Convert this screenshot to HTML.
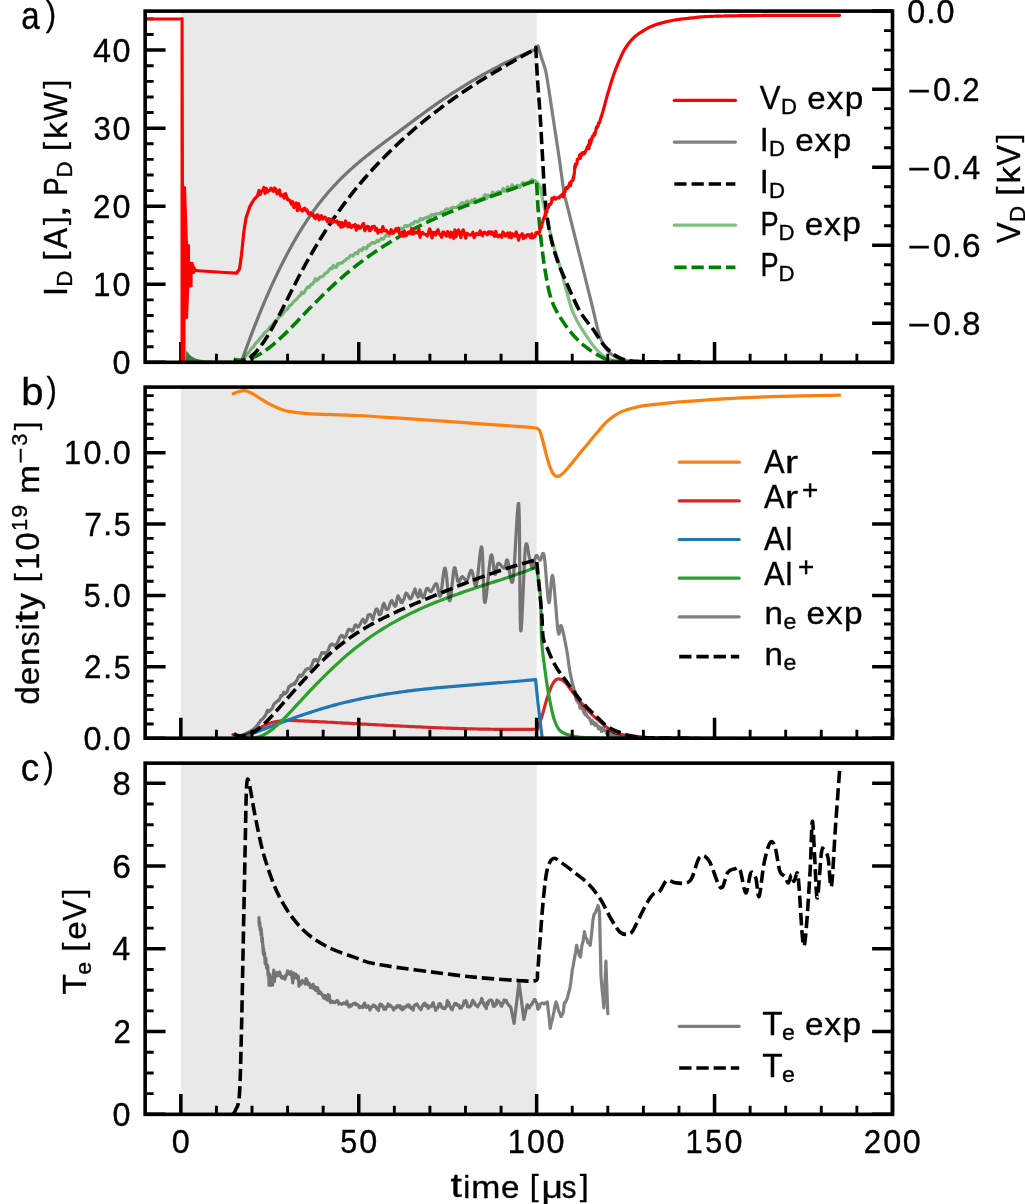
<!DOCTYPE html>
<html><head><meta charset="utf-8"><style>html,body{margin:0;padding:0;background:#fff;}svg{display:block;}text{font-family:"Liberation Sans",sans-serif;white-space:pre;-webkit-font-smoothing:antialiased;stroke:#000;stroke-width:0.35px;}svg{will-change:transform;}</style></head><body>
<svg width="1025" height="1204" viewBox="0 0 1025 1204" font-family="Liberation Sans, sans-serif">
<rect width="1025" height="1204" fill="#fff"/>
<defs>
<clipPath id="clipa"><rect x="145.15" y="11.1" width="747.35" height="351.2"/></clipPath>
<clipPath id="clipb"><rect x="145.15" y="387.1" width="747.35" height="351.1"/></clipPath>
<clipPath id="clipc"><rect x="145.15" y="763.15" width="747.35" height="351.2"/></clipPath>
</defs>
<rect x="180.85" y="11.1" width="355.8" height="351.2" fill="#e9e9e9"/>
<rect x="180.85" y="387.1" width="355.8" height="351.1" fill="#e9e9e9"/>
<rect x="180.85" y="763.15" width="355.8" height="351.2" fill="#e9e9e9"/>
<g clip-path="url(#clipa)">
<path d="M185.5 360.5L186 355.25L186.5 350L187 350.91L187.5 351.75L188 352.51L188.5 353.2L189 353.84L189.5 354.41L190 354.94L190.5 355.43L191 355.87L191.5 356.27L192 356.64L192.5 356.97L193 357.28L193.5 357.56L194 357.81L194.5 358.05L195 358.26L195.5 358.46L196 358.63L196.5 358.8L197 358.94L197.5 359.08L198 359.2L198.5 359.32L199 359.42L199.5 359.51L200 359.6L200.5 359.68L201 359.75L201.5 359.81L202 359.87L202.5 359.93L203 359.98L203.5 360.02L204 360.06L204.5 360.1L205 360.14L205.5 360.17L206 360.2L206.5 360.22L207 360.25L207.5 360.27L208 360.29L208.5 360.31L209 360.32L209.5 360.34L210 360.35L210.5 360.37L211 360.38L211.5 360.39L212 360.4L212.5 360.41L213 360.42L213.5 360.42L214 360.43L214.5 360.44L215 360.44L215.5 360.45L216 360.45L216.5 360.46L217 360.46L217.5 360.46L218 360.47L218.5 360.47L219 360.47L219.5 360.47L220 360.48L220.5 360.48L221 360.48L221.5 360.48L222 360.48L222.5 360.48L223 360.49L223.5 360.49L224 360.49L224.5 360.49L225 360.49L225.5 360.49L226 360.49L226.5 360.49L227 360.49L227.5 360.49L228 360.49L228.5 360.49L229 360.5L229.5 360.5L230 360.5L230.5 360.5L231 360.5L231.5 360.5L232 360.8L232 361.7L185.5 361.7Z" fill="#3d7a3d"/>
<path d="M244.7 357.81L246.2 355.45L247.71 353.57L249.21 351.95L250.71 349.47L252.22 347.76L253.72 346.58L255.22 343.84L256.72 342.25L258.23 341.12L259.73 338.55L261.23 337.04L262.74 335.64L264.24 333.27L265.74 332.02L267.25 330.83L268.75 328.86L270.25 326.62L271.76 325.65L273.26 323.62L274.76 321.67L276.27 320.87L277.77 318.66L279.27 316.8L280.77 315.69L282.28 314.45L283.78 312.42L285.28 310.45L286.79 309.56L288.29 307.92L289.79 305.48L291.3 304.72L292.8 302.64L294.3 300.97L295.81 299.91L297.31 298.39L298.81 296.4L300.32 295.43L301.82 292.22L303.32 293.37L304.82 291.6L306.33 288.63L307.83 286.77L309.33 287.27L310.84 284.4L312.34 284.35L313.84 282.04L315.35 278.58L316.85 280.63L318.35 279.18L319.86 277.04L321.36 276.98L322.86 276.2L324.37 274.51L325.87 272.72L327.37 272.5L328.88 270.13L330.38 268.41L331.88 268.81L333.38 265.34L334.89 267.28L336.39 267.44L337.89 263.59L339.4 263.86L340.9 262.96L342.4 262.95L343.91 261.11L345.41 260.14L346.91 258.56L348.42 258.33L349.92 256L351.42 255.28L352.92 256.01L354.43 253.78L355.93 252.66L357.43 253.88L358.94 250.23L360.44 249.76L361.94 250.74L363.45 247.54L364.95 247.84L366.45 248.74L367.96 245.3L369.46 245.54L370.96 243.48L372.47 242.5L373.97 243.36L375.47 242.66L376.97 240.54L378.48 241.56L379.98 239.79L381.48 238.29L382.99 239.12L384.49 237.45L385.99 235.19L387.5 234.41L389 236.08L390.5 232.85L392.01 232.16L393.51 233.39L395.01 231.09L396.52 231.61L398.02 230.92L399.52 228.48L401.02 228.38L402.53 229.33L404.03 227.12L405.53 225.43L407.04 226.59L408.54 225.34L410.04 225.74L411.55 223.66L413.05 224.06L414.55 221.69L416.06 221.37L417.56 222.22L419.06 220.73L420.57 218.53L422.07 219.79L423.57 218.63L425.07 217.78L426.58 218.12L428.08 216.68L429.58 219.25L431.09 214.84L432.59 214.68L434.09 215.63L435.6 213.74L437.1 213.94L438.6 213.5L440.11 213.55L441.61 211.91L443.11 213.31L444.62 210.91L446.12 208.86L447.62 209.14L449.12 209.07L450.63 209.5L452.13 207.25L453.63 207.3L455.14 207.53L456.64 207.36L458.14 205.82L459.65 206.1L461.15 203.01L462.65 202.7L464.16 204.72L465.66 202.97L467.16 200.83L468.67 202.19L470.17 202.87L471.67 200.26L473.17 202.53L474.68 198.86L476.18 199.92L477.68 200.54L479.19 200.22L480.69 198.74L482.19 198.95L483.7 196.67L485.2 194.72L486.7 198.45L488.21 195.22L489.71 196.5L491.21 195.43L492.72 192.23L494.22 193.71L495.72 194.11L497.22 192.15L498.73 191.63L500.23 192.39L501.73 191.64L503.24 188.44L504.74 191.04L506.24 190.42L507.75 186.87L509.25 190.39L510.75 188.75L512.26 184.92L513.76 187.95L515.26 187L516.77 185.66L518.27 185.29L519.77 187.39L521.27 184.78L522.78 182.57L524.28 183.26L525.78 182.95L527.29 182.57L528.79 182.11L530.29 182.1L531.8 179.58L533.3 180.43L535 180.8C535.83 181.77 538.62 182.87 540 186.6C541.38 190.33 541.92 196.83 543.3 203.2C544.68 209.57 546.63 217.87 548.3 224.8C549.97 231.73 551.37 237.87 553.3 244.8C555.23 251.73 557.68 258.65 559.9 266.4C562.12 274.15 564.38 283.55 566.6 291.3C568.82 299.05 570.43 306.25 573.2 312.9C575.97 319.55 579.32 325.1 583.2 331.2C587.08 337.3 592.07 344.78 596.5 349.5C600.93 354.22 605.05 357.42 609.8 359.5C614.55 361.58 609.97 361.58 625 362C640.03 362.42 687.5 362 700 362" fill="none" stroke="#008000" stroke-opacity="0.5" stroke-width="3.2" stroke-linejoin="round" stroke-linecap="round"/>
<path d="M233.7 359.25L236.71 359.87L239.72 360.13L242.73 360.05L245.74 359.66L248.75 358.97L251.76 357.99L254.77 356.76L257.78 355.27L260.79 353.57L263.8 351.65L266.81 349.54L269.82 347.26L272.83 344.83L275.84 342.26L278.85 339.56L281.86 336.76L284.87 333.86L287.88 330.89L290.89 327.85L293.9 324.76L296.91 321.64L299.92 318.49L302.93 315.35L305.94 312.21L308.95 309.1L311.96 306.01L314.97 302.95L317.98 299.92L320.99 296.93L324 293.98L327.01 291.08L330.02 288.22L333.03 285.41L336.04 282.66L339.05 279.96L342.06 277.32L345.07 274.74L348.08 272.22L351.09 269.74L354.1 267.33L357.11 264.96L360.12 262.64L363.13 260.38L366.14 258.16L369.15 256L372.16 253.87L375.17 251.8L378.18 249.77L381.19 247.78L384.21 245.84L387.22 243.94L390.23 242.08L393.24 240.26L396.25 238.48L399.26 236.74L402.27 235.03L405.28 233.36L408.29 231.72L411.3 230.12L414.31 228.55L417.32 227.02L420.33 225.51L423.34 224.03L426.35 222.58L429.36 221.16L432.37 219.77L435.38 218.4L438.39 217.06L441.4 215.74L444.41 214.44L447.42 213.16L450.43 211.91L453.44 210.67L456.45 209.45L459.46 208.25L462.47 207.07L465.48 205.9L468.49 204.74L471.5 203.6L474.51 202.47L477.52 201.35L480.53 200.25L483.54 199.15L486.55 198.06L489.56 196.97L492.57 195.9L495.58 194.83L498.59 193.76L501.6 192.69L504.61 191.63L507.62 190.57L510.63 189.51L513.64 188.45L516.65 187.38L519.66 186.31L522.67 185.24L525.68 184.17L528.69 183.08L531.7 181.99L535.5 181.5C535.68 181.8 536.13 178.3 536.6 183.3C537.07 188.3 537.47 201.25 538.3 211.5C539.13 221.75 540.48 235.1 541.6 244.8C542.72 254.5 543.62 261.4 545 269.7C546.38 278 547.97 287.67 549.9 294.6C551.83 301.53 553.27 305.2 556.6 311.3C559.93 317.4 565.2 325.38 569.9 331.2C574.6 337.02 579.27 341.77 584.8 346.2C590.33 350.63 597.23 355.22 603.1 357.8C608.97 360.38 603.85 361 620 361.7C636.15 362.4 686.67 361.95 700 362" fill="none" stroke="#008000" stroke-width="3.6" stroke-dasharray="12.3 4.9" stroke-linejoin="round" stroke-linecap="butt"/>
<path d="M242.4 358.99L244.4 353.38L246.4 347.87L248.4 342.43L250.41 337.09L252.41 331.83L254.41 326.66L256.41 321.57L258.41 316.57L260.41 311.66L262.41 306.83L264.41 302.08L266.42 297.42L268.42 292.84L270.42 288.35L272.42 283.94L274.42 279.61L276.42 275.37L278.42 271.2L280.43 267.12L282.43 263.12L284.43 259.2L286.43 255.36L288.43 251.6L290.43 247.92L292.43 244.32L294.44 240.79L296.44 237.35L298.44 233.98L300.44 230.68L302.44 227.46L304.44 224.32L306.44 221.25L308.44 218.25L310.45 215.32L312.45 212.47L314.45 209.69L316.45 206.98L318.45 204.34L320.45 201.76L322.45 199.25L324.46 196.8L326.46 194.41L328.46 192.08L330.46 189.8L332.46 187.58L334.46 185.41L336.46 183.29L338.47 181.21L340.47 179.18L342.47 177.2L344.47 175.25L346.47 173.35L348.47 171.48L350.47 169.64L352.47 167.84L354.48 166.07L356.48 164.34L358.48 162.63L360.48 160.94L362.48 159.29L364.48 157.65L366.48 156.04L368.49 154.45L370.49 152.88L372.49 151.32L374.49 149.78L376.49 148.25L378.49 146.74L380.49 145.23L382.5 143.73L384.5 142.24L386.5 140.76L388.5 139.28L390.5 137.8L392.5 136.32L394.5 134.83L396.5 133.35L398.51 131.86L400.51 130.36L402.51 128.87L404.51 127.37L406.51 125.87L408.51 124.37L410.51 122.87L412.52 121.38L414.52 119.88L416.52 118.39L418.52 116.91L420.52 115.43L422.52 113.96L424.52 112.5L426.53 111.04L428.53 109.6L430.53 108.17L432.53 106.74L434.53 105.33L436.53 103.93L438.53 102.55L440.53 101.17L442.54 99.8L444.54 98.45L446.54 97.11L448.54 95.78L450.54 94.46L452.54 93.15L454.54 91.86L456.55 90.57L458.55 89.3L460.55 88.04L462.55 86.79L464.55 85.55L466.55 84.33L468.55 83.11L470.56 81.91L472.56 80.72L474.56 79.54L476.56 78.38L478.56 77.22L480.56 76.08L482.56 74.95L484.56 73.83L486.57 72.72L488.57 71.62L490.57 70.54L492.57 69.47L494.57 68.41L496.57 67.36L498.57 66.32L500.58 65.3L502.58 64.29L504.58 63.29L506.58 62.3L508.58 61.33L510.58 60.36L512.58 59.41L514.59 58.47L516.59 57.55L518.59 56.63L520.59 55.73L522.59 54.84L524.59 53.96L526.59 53.1L528.59 52.25L530.6 51.41L532.6 50.58L534.6 49.76L536.6 48.96L538 45.8C538.6 47.87 540.3 53.92 541.6 58.2C542.9 62.48 544.42 65.13 545.8 71.5C547.18 77.87 548.38 86.7 549.9 96.4C551.42 106.1 553.23 118.62 554.9 129.7C556.57 140.78 558.38 152.38 559.9 162.9C561.42 173.42 562.88 186.08 564 192.8C565.12 199.52 564.78 195.92 566.6 203.2C568.42 210.48 572.13 225.42 574.9 236.5C577.67 247.58 580.43 258.62 583.2 269.7C585.97 280.78 588.73 291.92 591.5 303C594.27 314.08 597.03 328.17 599.8 336.2C602.57 344.23 604.5 347.32 608.1 351.2C611.7 355.08 616.08 357.78 621.4 359.5C626.72 361.22 626.9 361.08 640 361.5C653.1 361.92 690 361.92 700 362" fill="none" stroke="#000000" stroke-opacity="0.5" stroke-width="3.2" stroke-linejoin="round" stroke-linecap="round"/>
<path d="M233.5 360.51L236.52 361.55L239.54 361.83L242.56 361.39L245.58 360.29L248.6 358.56L251.63 356.23L254.65 353.37L257.67 350L260.69 346.17L263.71 341.92L266.73 337.29L269.75 332.32L272.77 327.07L275.79 321.58L278.81 315.89L281.84 310.06L284.86 304.12L287.88 298.13L290.9 292.13L293.92 286.16L296.94 280.28L299.96 274.52L302.98 268.9L306 263.4L309.02 258.02L312.05 252.77L315.07 247.64L318.09 242.62L321.11 237.72L324.13 232.94L327.15 228.26L330.17 223.69L333.19 219.22L336.21 214.86L339.24 210.59L342.26 206.42L345.28 202.35L348.3 198.36L351.32 194.47L354.34 190.66L357.36 186.94L360.38 183.29L363.4 179.73L366.42 176.24L369.45 172.83L372.47 169.48L375.49 166.21L378.51 163L381.53 159.85L384.55 156.77L387.57 153.74L390.59 150.77L393.61 147.85L396.63 144.98L399.66 142.16L402.68 139.39L405.7 136.66L408.72 133.97L411.74 131.33L414.76 128.73L417.78 126.17L420.8 123.65L423.82 121.17L426.84 118.72L429.87 116.32L432.89 113.95L435.91 111.62L438.93 109.32L441.95 107.06L444.97 104.83L447.99 102.63L451.01 100.46L454.03 98.33L457.05 96.22L460.08 94.14L463.1 92.09L466.12 90.07L469.14 88.07L472.16 86.1L475.18 84.15L478.2 82.23L481.22 80.32L484.24 78.44L487.26 76.58L490.29 74.74L493.31 72.92L496.33 71.12L499.35 69.33L502.37 67.56L505.39 65.8L508.41 64.06L511.43 62.34L514.45 60.62L517.47 58.92L520.5 57.22L523.52 55.54L526.54 53.87L529.56 52.2L532.58 50.54L535.6 48.89L535.8 47.4C536.08 52.8 536.8 68.85 537.5 79.8C538.2 90.75 539.18 100.63 540 113.1C540.82 125.57 541.53 140.12 542.4 154.6C543.27 169.08 543.95 186.9 545.2 200C546.45 213.1 548 223.52 549.9 233.2C551.8 242.88 553.82 249.8 556.6 258.1C559.38 266.4 562.72 274.13 566.6 283C570.48 291.87 575.47 303.55 579.9 311.3C584.33 319.05 589.05 323.68 593.2 329.5C597.35 335.32 600.38 341.48 604.8 346.2C609.22 350.92 613.83 355.25 619.7 357.8C625.57 360.35 626.62 360.8 640 361.5C653.38 362.2 690 361.92 700 362" fill="none" stroke="#000" stroke-width="3.6" stroke-dasharray="12.3 4.9" stroke-linejoin="round" stroke-linecap="butt"/>
</g>
<g clip-path="url(#clipb)">
<path d="M233.2 393.7C234.17 393.33 237.05 392 239 391.5C240.95 391 242.95 390.5 244.9 390.7C246.85 390.9 248.52 391.65 250.7 392.7C252.88 393.75 255.07 395.22 258 397C260.93 398.78 264.97 401.57 268.3 403.4C271.63 405.23 274.75 406.7 278 408C281.25 409.3 282.92 410.27 287.8 411.2C292.68 412.13 295.92 412.88 307.3 413.6C318.68 414.32 340.65 414.73 356.1 415.5C371.55 416.27 381.3 416.97 400 418.2C418.7 419.43 448.3 421.5 468.3 422.9C488.3 424.3 508.62 425.75 520 426.6C531.38 427.45 533.83 427.77 536.6 428L536.6 428C537.08 428.42 538.53 428.62 539.5 430.5C540.47 432.38 541.27 435.23 542.4 439.3C543.53 443.37 545 450.18 546.3 454.9C547.6 459.62 548.9 464.27 550.2 467.6C551.5 470.93 552.8 473.45 554.1 474.9C555.4 476.35 556.53 476.55 558 476.3C559.47 476.05 560.78 475.35 562.9 473.4C565.02 471.45 568.1 467.68 570.7 464.6C573.3 461.52 575.57 458.47 578.5 454.9C581.43 451.33 585.05 447.1 588.3 443.2C591.55 439.3 594.75 435.25 598 431.5C601.25 427.75 604.13 423.88 607.8 420.7C611.47 417.52 615.47 414.6 620 412.4C624.53 410.2 629.92 408.77 635 407.5C640.08 406.23 637.83 406.1 650.5 404.8C663.17 403.5 690.83 401.07 711 399.7C731.17 398.33 750.08 397.37 771.5 396.6C792.92 395.83 828.17 395.35 839.5 395.1" fill="none" stroke="#ff7f0e" stroke-width="3.2" stroke-linejoin="round" stroke-linecap="round"/>
<path d="M232.9 734.59L235.91 735.47L238.92 735.74L241.94 735.49L244.95 734.81L247.96 733.78L250.97 732.49L253.98 731.02L257 729.45L260.01 727.84L263.02 726.28L266.03 724.84L269.04 723.59L272.05 722.59L275.07 721.81L278.08 721.25L281.09 720.86L284.1 720.62L287.11 720.51L290.13 720.5L293.14 720.56L296.15 720.67L299.16 720.8L302.17 720.94L305.19 721.08L308.2 721.22L311.21 721.37L314.22 721.51L317.23 721.66L320.24 721.81L323.26 721.96L326.27 722.12L329.28 722.27L332.29 722.43L335.3 722.58L338.32 722.74L341.33 722.9L344.34 723.06L347.35 723.22L350.36 723.38L353.38 723.55L356.39 723.71L359.4 723.87L362.41 724.03L365.42 724.2L368.43 724.36L371.45 724.52L374.46 724.68L377.47 724.84L380.48 725L383.49 725.16L386.51 725.32L389.52 725.48L392.53 725.64L395.54 725.79L398.55 725.94L401.57 726.1L404.58 726.25L407.59 726.39L410.6 726.54L413.61 726.68L416.62 726.83L419.64 726.96L422.65 727.1L425.66 727.24L428.67 727.37L431.68 727.5L434.7 727.62L437.71 727.74L440.72 727.86L443.73 727.98L446.74 728.09L449.76 728.2L452.77 728.31L455.78 728.41L458.79 728.5L461.8 728.6L464.81 728.69L467.83 728.77L470.84 728.85L473.85 728.92L476.86 728.99L479.87 729.06L482.89 729.12L485.9 729.17L488.91 729.22L491.92 729.27L494.93 729.31L497.95 729.34L500.96 729.37L503.97 729.39L506.98 729.4L509.99 729.41L513 729.41L516.02 729.41L519.03 729.4L522.04 729.38L525.05 729.36L528.06 729.32L531.08 729.29L534.09 729.24L537.1 729.19L537.1 729.5C537.9 727.33 540.2 721.85 541.9 716.5C543.6 711.15 545.48 702.87 547.3 697.4C549.12 691.93 550.98 686.78 552.8 683.7C554.62 680.62 556.15 679.13 558.2 678.9C560.25 678.67 562.37 679.68 565.1 682.3C567.83 684.92 570.73 689.82 574.6 694.6C578.47 699.38 583.73 706.22 588.3 711C592.87 715.78 597.45 719.65 602 723.3C606.55 726.95 609.92 730.73 615.6 732.9C621.28 735.07 628.7 735.45 636.1 736.3C643.5 737.15 639.35 737.63 660 738C680.65 738.37 743.33 738.42 760 738.5" fill="none" stroke="#d62728" stroke-width="3.2" stroke-linejoin="round" stroke-linecap="round"/>
<path d="M239.8 738.59L242.82 737.41L245.84 736.22L248.86 735.04L251.87 733.85L254.89 732.67L257.91 731.49L260.93 730.32L263.95 729.15L266.97 727.98L269.98 726.82L273 725.67L276.02 724.52L279.04 723.39L282.06 722.26L285.08 721.15L288.09 720.04L291.11 718.95L294.13 717.87L297.15 716.8L300.17 715.75L303.19 714.72L306.2 713.7L309.22 712.7L312.24 711.71L315.26 710.75L318.28 709.8L321.3 708.88L324.31 707.97L327.33 707.09L330.35 706.24L333.37 705.4L336.39 704.59L339.41 703.81L342.42 703.04L345.44 702.3L348.46 701.58L351.48 700.88L354.5 700.2L357.52 699.54L360.53 698.9L363.55 698.28L366.57 697.67L369.59 697.09L372.61 696.52L375.63 695.98L378.64 695.44L381.66 694.93L384.68 694.43L387.7 693.95L390.72 693.48L393.74 693.02L396.76 692.58L399.77 692.16L402.79 691.74L405.81 691.34L408.83 690.96L411.85 690.58L414.87 690.21L417.88 689.86L420.9 689.52L423.92 689.18L426.94 688.86L429.96 688.54L432.98 688.24L435.99 687.94L439.01 687.65L442.03 687.36L445.05 687.09L448.07 686.82L451.09 686.55L454.1 686.29L457.12 686.04L460.14 685.79L463.16 685.54L466.18 685.3L469.2 685.06L472.21 684.82L475.23 684.58L478.25 684.35L481.27 684.12L484.29 683.88L487.31 683.65L490.32 683.42L493.34 683.19L496.36 682.95L499.38 682.72L502.4 682.48L505.42 682.24L508.43 681.99L511.45 681.75L514.47 681.5L517.49 681.24L520.51 680.98L523.53 680.72L526.54 680.44L529.56 680.17L532.58 679.88L535.6 679.59L537.8 701.5L540.5 724.7L542.5 740" fill="none" stroke="#1f77b4" stroke-width="3.2" stroke-linejoin="round" stroke-linecap="round"/>
<path d="M250 738.01L253.01 738.04L256.01 737.64L259.02 736.84L262.02 735.67L265.03 734.16L268.03 732.34L271.04 730.24L274.04 727.88L277.05 725.31L280.05 722.54L283.06 719.62L286.06 716.56L289.07 713.4L292.07 710.16L295.08 706.89L298.08 703.6L301.09 700.33L304.09 697.09L307.1 693.87L310.11 690.69L313.11 687.54L316.12 684.43L319.12 681.35L322.13 678.32L325.13 675.33L328.14 672.38L331.14 669.49L334.15 666.64L337.15 663.85L340.16 661.11L343.16 658.43L346.17 655.81L349.17 653.26L352.18 650.77L355.18 648.34L358.19 645.97L361.19 643.67L364.2 641.43L367.21 639.25L370.21 637.12L373.22 635.05L376.22 633.04L379.23 631.08L382.23 629.17L385.24 627.31L388.24 625.5L391.25 623.73L394.25 622.02L397.26 620.35L400.26 618.72L403.27 617.13L406.27 615.59L409.28 614.08L412.28 612.61L415.29 611.18L418.29 609.79L421.3 608.42L424.31 607.09L427.31 605.79L430.32 604.52L433.32 603.28L436.33 602.06L439.33 600.87L442.34 599.7L445.34 598.56L448.35 597.43L451.35 596.33L454.36 595.24L457.36 594.17L460.37 593.12L463.37 592.08L466.38 591.05L469.38 590.03L472.39 589.02L475.39 588.03L478.4 587.03L481.41 586.05L484.41 585.06L487.42 584.08L490.42 583.1L493.43 582.12L496.43 581.14L499.44 580.16L502.44 579.17L505.45 578.17L508.45 577.17L511.46 576.16L514.46 575.14L517.47 574.11L520.47 573.06L523.48 572L526.48 570.93L529.49 569.84L532.49 568.73L535.5 567.6L536.6 567.8C537.25 572.68 539.67 585.07 540.5 597.1C541.33 609.13 540.92 628.3 541.6 640C542.28 651.7 543.42 658.2 544.6 667.3C545.78 676.4 547.12 685.95 548.7 694.6C550.28 703.25 552.05 713.05 554.1 719.2C556.15 725.35 557.58 728.65 561 731.5C564.42 734.35 568.1 735.22 574.6 736.3C581.1 737.38 579.1 737.63 600 738C620.9 738.37 683.33 738.42 700 738.5" fill="none" stroke="#2ca02c" stroke-width="3.2" stroke-linejoin="round" stroke-linecap="round"/>
<path d="M236 737.5L245 734L251.7 730.64L252.7 729.89L253.7 729.35L254.71 727.86L255.71 727.38L256.71 725.92L257.71 724.99L258.72 723.08L259.72 722.02L260.72 720.17L261.72 719.4L262.72 718.86L263.73 717.51L264.73 716.38L265.73 715L266.73 711.84L267.73 710.06L268.74 711.75L269.74 710.77L270.74 709.72L271.74 709.04L272.75 706.97L273.75 704.72L274.75 702.95L275.75 702.74L276.75 701.65L277.76 700.38L278.76 700.59L279.76 698.84L280.76 695.74L281.77 696.06L282.77 694.75L283.77 692.16L284.77 693.93L285.77 693.16L286.78 692.32L287.78 690.33L288.78 686.65L289.78 686.81L290.79 685L291.79 685.33L292.79 684.33L293.79 683.2L294.79 684.19L295.8 681.56L296.8 680.74L297.8 678.21L298.8 676.25L299.8 674.91L300.81 676.48L301.81 675.86L302.81 674.49L303.81 672.42L304.82 671.36L305.82 669.68L306.82 668.92L307.82 668.49L308.82 668.84L309.83 668.68L310.83 667.12L311.83 665.26L312.83 662.24L313.84 659.79L314.84 660.51L315.84 659.32L316.84 660.53L317.84 661.57L318.85 659.87L319.85 657.12L320.85 655.21L321.85 652.67L322.86 653.17L323.86 652.5L324.86 652.85L325.86 654.65L326.86 653.14L327.87 651.03L328.87 648.47L329.87 645.68L330.87 644.77L331.87 643.83L332.88 644.91L333.88 645.43L334.88 644.82L335.88 644.75L336.89 643.78L337.89 641.82L338.89 639.26L339.89 637.05L340.89 636L341.9 635.4L342.9 635.84L343.9 638L344.9 637.45L345.91 636.62L346.91 632.93L347.91 630.58L348.91 629.25L349.91 629.78L350.92 629.59L351.92 631.08L352.92 630.65L353.92 628.23L354.93 625.48L355.93 624.88L356.93 626.56L357.93 627.2L358.93 626.27L359.94 624.66L360.94 622.58L361.94 620.58L362.94 619.17L363.94 620.55L364.95 623.07L365.95 621.19L366.95 619.77L367.95 615.06L368.96 614.7L369.96 614.31L370.96 615.6L371.96 617.32L372.96 619.49L373.97 615.13L374.97 612.11L375.97 609.23L376.97 608.94L377.98 610.49L378.98 614.54L379.98 614.61L380.98 613.68L381.98 609.07L382.99 604.97L383.99 603.28L384.99 605.6L385.99 609.11L387 609.41L388 609.26L389 607.28L390 603.67L391 601.46L392.01 600.54L393.01 602.74L394.01 605.26L395.01 606.31L396.01 605.16L397.02 598.91L398.02 595.87L399.02 597.64L400.02 599.08L401.03 602.51L402.03 602.75L403.03 600.5L404.03 599.13L405.03 595.43L406.04 593.2L407.04 593.68L408.04 595.3L409.04 597.34L410.05 598.92L411.05 598.38L412.05 596.46L413.05 593.56L414.05 591.56L415.06 588.94L416.06 592.58L417.06 595.14L418.06 597.05L419.07 595.48L420 589.9L420.23 590.62L420.54 591.7L420.9 593.01L421.31 594.39L421.74 595.69L422.2 596.78L422.65 597.49L423.1 597.7L423.46 597.4L423.83 596.72L424.21 595.75L424.6 594.57L425 593.29L425.4 591.98L425.8 590.74L426.21 589.65L426.61 588.81L427 588.3L427.75 588.31L428.48 589.2L429.22 590.41L430.02 591.36L430.9 591.5L431.45 591L432.05 590.12L432.67 588.96L433.32 587.67L433.98 586.38L434.63 585.2L435.25 584.28L435.85 583.74L436.4 583.7L436.75 584.11L437.08 584.91L437.39 586.03L437.69 587.38L437.98 588.88L438.26 590.44L438.54 591.98L438.81 593.43L439.09 594.68L439.38 595.67L439.67 596.31L439.98 596.51L440.3 596.2L440.45 595.83L440.61 595.3L440.77 594.61L440.93 593.78L441.09 592.83L441.25 591.77L441.42 590.6L441.58 589.36L441.75 588.04L441.92 586.67L442.09 585.25L442.26 583.81L442.43 582.35L442.6 580.89L442.77 579.44L442.94 578.02L443.12 576.64L443.29 575.31L443.46 574.06L443.63 572.88L443.81 571.8L443.98 570.83L444.15 569.99L444.32 569.28L444.49 568.72L444.66 568.33L444.83 568.12L445 568.1L445.14 568.25L445.29 568.57L445.43 569.03L445.57 569.64L445.71 570.38L445.86 571.23L446 572.19L446.14 573.25L446.28 574.4L446.43 575.63L446.57 576.92L446.71 578.27L446.86 579.66L447 581.09L447.14 582.54L447.28 584L447.43 585.47L447.57 586.93L447.71 588.38L447.86 589.79L448 591.17L448.14 592.49L448.28 593.76L448.43 594.95L448.57 596.07L448.71 597.09L448.85 598.01L448.99 598.82L449.13 599.5L449.28 600.06L449.42 600.46L449.56 600.71L449.7 600.8L449.84 600.72L449.98 600.49L450.12 600.11L450.27 599.6L450.41 598.96L450.55 598.2L450.69 597.34L450.84 596.38L450.98 595.34L451.12 594.21L451.27 593.01L451.41 591.76L451.55 590.45L451.69 589.11L451.84 587.73L451.98 586.33L452.12 584.91L452.26 583.49L452.4 582.08L452.54 580.68L452.68 579.3L452.82 577.96L452.96 576.66L453.1 575.42L453.24 574.23L453.37 573.12L453.51 572.09L453.64 571.14L453.78 570.3L453.91 569.56L454.04 568.95L454.17 568.45L454.3 568.1L454.6 567.71L454.89 567.82L455.18 568.36L455.47 569.26L455.74 570.45L456.02 571.86L456.29 573.4L456.57 575.01L456.84 576.62L457.11 578.16L457.38 579.55L457.65 580.71L457.92 581.59L458.2 582.1L458.84 582.2L459.47 581.36L460.1 579.98L460.74 578.46L461.4 577.2L462.1 576.6L462.84 576.87L463.61 577.72L464.4 578.84L465.2 579.89L466.01 580.55L466.8 580.5L467.23 580.01L467.65 579.18L468.08 578.08L468.51 576.81L468.94 575.45L469.36 574.1L469.79 572.83L470.22 571.74L470.65 570.91L471.07 570.44L471.5 570.4L471.81 570.77L472.12 571.53L472.43 572.61L472.73 573.94L473.04 575.45L473.34 577.07L473.65 578.73L473.95 580.36L474.26 581.9L474.57 583.27L474.89 584.4L475.21 585.23L475.53 585.69L475.86 585.7L476.2 585.2L476.34 584.82L476.47 584.32L476.61 583.69L476.76 582.95L476.9 582.1L477.05 581.15L477.2 580.12L477.35 579L477.5 577.8L477.65 576.55L477.81 575.23L477.96 573.86L478.11 572.45L478.27 571.01L478.43 569.54L478.58 568.05L478.74 566.55L478.89 565.06L479.05 563.56L479.2 562.08L479.36 560.63L479.51 559.2L479.66 557.81L479.82 556.47L479.97 555.18L480.11 553.95L480.26 552.8L480.4 551.72L480.55 550.73L480.69 549.83L480.82 549.03L480.96 548.35L481.09 547.78L481.22 547.34L481.34 547.03L481.47 546.87L481.58 546.86L481.7 547L481.78 547.2L481.85 547.5L481.92 547.88L481.99 548.35L482.06 548.9L482.13 549.53L482.19 550.24L482.25 551.01L482.31 551.85L482.37 552.76L482.42 553.72L482.48 554.75L482.53 555.82L482.58 556.95L482.63 558.12L482.68 559.34L482.73 560.59L482.78 561.88L482.83 563.2L482.87 564.55L482.92 565.93L482.96 567.33L483.01 568.74L483.05 570.17L483.1 571.61L483.14 573.06L483.18 574.51L483.23 575.96L483.27 577.41L483.32 578.85L483.36 580.29L483.41 581.7L483.45 583.11L483.5 584.49L483.55 585.84L483.59 587.17L483.64 588.47L483.69 589.73L483.74 590.95L483.8 592.13L483.85 593.27L483.9 594.35L483.96 595.39L484.02 596.36L484.08 597.28L484.14 598.14L484.21 598.92L484.27 599.64L484.34 600.28L484.41 600.85L484.48 601.34L484.56 601.74L484.64 602.05L484.72 602.27L484.8 602.4L484.9 602.43L485.01 602.35L485.11 602.15L485.22 601.84L485.34 601.43L485.46 600.92L485.58 600.32L485.7 599.64L485.83 598.86L485.96 598.01L486.09 597.09L486.22 596.1L486.35 595.04L486.49 593.92L486.63 592.75L486.77 591.53L486.91 590.27L487.05 588.96L487.2 587.62L487.34 586.25L487.49 584.86L487.63 583.44L487.78 582.01L487.92 580.57L488.07 579.12L488.22 577.68L488.36 576.23L488.51 574.8L488.65 573.37L488.8 571.97L488.94 570.59L489.08 569.23L489.23 567.91L489.37 566.63L489.5 565.39L489.64 564.2L489.78 563.06L489.91 561.98L490.04 560.96L490.17 560L490.3 559.12L490.42 558.31L490.54 557.59L490.66 556.95L490.78 556.4L490.89 555.95L491 555.6L491.26 555.08L491.51 554.96L491.75 555.2L491.98 555.76L492.21 556.6L492.43 557.67L492.64 558.95L492.84 560.37L493.04 561.91L493.23 563.52L493.43 565.15L493.61 566.78L493.8 568.35L493.98 569.82L494.17 571.16L494.35 572.32L494.53 573.25L494.71 573.93L494.9 574.3L495.21 574.36L495.48 573.91L495.74 573.04L495.99 571.86L496.23 570.47L496.48 568.97L496.74 567.46L497.03 566.05L497.35 564.83L497.7 563.92L498.1 563.4L498.86 563.36L499.74 563.97L500.71 564.98L501.7 566.15L502.67 567.22L503.55 567.95L504.3 568.1L504.82 567.52L505.24 566.35L505.58 564.82L505.89 563.18L506.2 561.65L506.53 560.49L506.92 559.92L507.4 560.2L507.61 560.66L507.83 561.43L508.06 562.47L508.29 563.73L508.54 565.18L508.79 566.77L509.04 568.46L509.31 570.22L509.57 572.01L509.84 573.77L510.12 575.48L510.4 577.09L510.68 578.57L510.96 579.86L511.24 580.93L511.52 581.75L511.8 582.26L512.08 582.43L512.35 582.22L512.63 581.59L512.9 580.5L512.97 580.1L513.05 579.63L513.13 579.09L513.2 578.49L513.28 577.84L513.36 577.12L513.44 576.35L513.52 575.52L513.6 574.64L513.68 573.71L513.76 572.73L513.84 571.71L513.92 570.64L514 569.53L514.09 568.38L514.17 567.19L514.25 565.97L514.33 564.71L514.42 563.42L514.5 562.1L514.59 560.76L514.67 559.39L514.75 557.99L514.84 556.57L514.92 555.13L515.01 553.68L515.09 552.21L515.18 550.73L515.26 549.23L515.35 547.73L515.43 546.22L515.52 544.7L515.6 543.18L515.68 541.66L515.77 540.14L515.85 538.63L515.94 537.12L516.02 535.61L516.1 534.12L516.18 532.63L516.27 531.16L516.35 529.71L516.43 528.27L516.51 526.85L516.59 525.46L516.67 524.08L516.75 522.74L516.83 521.42L516.91 520.13L516.99 518.87L517.06 517.64L517.14 516.46L517.21 515.3L517.29 514.19L517.36 513.12L517.44 512.1L517.51 511.12L517.58 510.19L517.65 509.31L517.72 508.48L517.79 507.71L517.86 506.99L517.93 506.33L517.99 505.73L518.06 505.19L518.12 504.72L518.19 504.32L518.25 503.98L518.31 503.71L518.37 503.52L518.43 503.4L518.48 503.36L518.54 503.4L518.59 503.51L518.65 503.71L518.7 504L518.73 504.22L518.76 504.47L518.79 504.77L518.82 505.1L518.85 505.46L518.87 505.87L518.9 506.3L518.93 506.77L518.95 507.28L518.98 507.82L519 508.39L519.03 508.99L519.05 509.63L519.07 510.29L519.1 510.99L519.12 511.71L519.14 512.47L519.16 513.25L519.18 514.06L519.2 514.89L519.22 515.76L519.24 516.65L519.26 517.56L519.28 518.5L519.3 519.46L519.31 520.45L519.33 521.45L519.35 522.48L519.36 523.54L519.38 524.61L519.4 525.7L519.41 526.81L519.43 527.94L519.44 529.09L519.46 530.26L519.47 531.45L519.48 532.65L519.5 533.86L519.51 535.1L519.52 536.34L519.54 537.6L519.55 538.88L519.56 540.16L519.57 541.46L519.58 542.77L519.6 544.1L519.61 545.43L519.62 546.77L519.63 548.12L519.64 549.48L519.65 550.85L519.66 552.22L519.67 553.6L519.68 554.99L519.69 556.38L519.7 557.78L519.71 559.18L519.72 560.58L519.73 561.99L519.74 563.4L519.75 564.81L519.76 566.22L519.77 567.64L519.78 569.05L519.79 570.46L519.8 571.87L519.81 573.28L519.82 574.69L519.83 576.09L519.83 577.49L519.84 578.88L519.85 580.27L519.86 581.65L519.87 583.03L519.88 584.4L519.89 585.76L519.9 587.12L519.91 588.46L519.92 589.8L519.93 591.12L519.94 592.44L519.95 593.74L519.96 595.03L519.97 596.31L519.99 597.58L520 598.83L520.01 600.07L520.02 601.29L520.03 602.5L520.04 603.69L520.05 604.86L520.07 606.02L520.08 607.15L520.09 608.27L520.11 609.37L520.12 610.45L520.13 611.51L520.15 612.55L520.16 613.57L520.18 614.56L520.19 615.53L520.21 616.48L520.22 617.4L520.24 618.3L520.25 619.17L520.27 620.02L520.29 620.84L520.31 621.63L520.32 622.4L520.34 623.13L520.36 623.84L520.38 624.51L520.4 625.16L520.42 625.77L520.44 626.36L520.46 626.91L520.48 627.43L520.51 627.91L520.53 628.36L520.55 628.77L520.57 629.15L520.6 629.5L520.62 629.81L520.65 630.07L520.67 630.31L520.7 630.5L520.74 630.73L520.78 630.88L520.83 630.97L520.87 630.98L520.92 630.92L520.96 630.8L521.01 630.6L521.05 630.35L521.1 630.03L521.15 629.65L521.2 629.21L521.25 628.71L521.3 628.16L521.35 627.55L521.41 626.89L521.46 626.18L521.51 625.41L521.57 624.6L521.62 623.75L521.68 622.85L521.73 621.9L521.79 620.91L521.84 619.89L521.9 618.82L521.96 617.72L522.02 616.59L522.08 615.42L522.14 614.22L522.2 612.99L522.25 611.73L522.31 610.44L522.38 609.13L522.44 607.8L522.5 606.44L522.56 605.07L522.62 603.67L522.68 602.26L522.74 600.83L522.81 599.39L522.87 597.94L522.93 596.48L522.99 595L523.06 593.52L523.12 592.04L523.18 590.55L523.25 589.06L523.31 587.57L523.37 586.08L523.44 584.59L523.5 583.11L523.56 581.64L523.62 580.17L523.69 578.71L523.75 577.26L523.81 575.82L523.88 574.4L523.94 573L524 571.61L524.06 570.24L524.13 568.89L524.19 567.56L524.25 566.26L524.31 564.99L524.37 563.74L524.43 562.52L524.49 561.33L524.55 560.17L524.61 559.05L524.67 557.96L524.73 556.91L524.79 555.9L524.85 554.93L524.9 554L524.96 553.11L525.02 552.27L525.07 551.48L525.13 550.73L525.19 550.04L525.24 549.4L525.29 548.81L525.35 548.28L525.4 547.8L525.83 545L526.24 543.74L526.65 543.77L527.06 544.81L527.45 546.59L527.84 548.84L528.21 551.29L528.58 553.66L528.95 555.69L529.3 557.1L529.61 558.12L529.9 559.31L530.18 560.61L530.45 561.96L530.72 563.31L530.98 564.59L531.25 565.76L531.52 566.75L531.8 567.51L532.09 567.98L532.4 568.1L532.67 567.86L532.96 567.3L533.25 566.47L533.54 565.43L533.84 564.23L534.15 562.92L534.45 561.57L534.76 560.23L535.07 558.96L535.38 557.8L535.69 556.82L536 556.07L536.3 555.6L536.95 555.48L537.6 556.21L538.25 557.41L538.9 558.71L539.55 559.77L540.2 560.2L540.84 559.37L541.47 557.44L542.1 555.26L542.74 553.67L543.4 553.5L544.1 555.6L544.19 556.09L544.29 556.65L544.38 557.29L544.47 558L544.57 558.77L544.67 559.6L544.76 560.49L544.86 561.44L544.96 562.43L545.06 563.47L545.16 564.56L545.26 565.69L545.36 566.85L545.47 568.05L545.57 569.28L545.67 570.53L545.77 571.8L545.88 573.09L545.98 574.4L546.09 575.72L546.19 577.04L546.29 578.37L546.4 579.7L546.5 581.03L546.61 582.35L546.71 583.66L546.81 584.96L546.92 586.24L547.02 587.49L547.13 588.73L547.23 589.93L547.33 591.1L547.43 592.24L547.54 593.34L547.64 594.39L547.74 595.4L547.84 596.36L547.94 597.26L548.04 598.11L548.14 598.9L548.23 599.62L548.33 600.27L548.43 600.86L548.52 601.36L548.61 601.79L548.71 602.14L548.8 602.4L548.96 602.63L549.12 602.54L549.28 602.16L549.43 601.53L549.58 600.67L549.72 599.6L549.87 598.34L550.01 596.94L550.15 595.41L550.29 593.78L550.42 592.08L550.56 590.33L550.7 588.56L550.84 586.8L550.98 585.07L551.12 583.41L551.26 581.83L551.41 580.36L551.56 579.03L551.71 577.87L551.86 576.9L552.02 576.16L552.18 575.66L552.35 575.43L552.52 575.5L552.7 575.9L552.78 576.2L552.87 576.57L552.96 577.01L553.05 577.52L553.14 578.08L553.23 578.71L553.33 579.39L553.42 580.14L553.52 580.93L553.62 581.77L553.72 582.66L553.82 583.6L553.92 584.58L554.02 585.6L554.12 586.66L554.22 587.75L554.33 588.88L554.43 590.04L554.54 591.22L554.64 592.43L554.75 593.66L554.86 594.92L554.96 596.19L555.07 597.48L555.18 598.78L555.29 600.09L555.39 601.41L555.5 602.74L555.61 604.07L555.71 605.4L555.82 606.72L555.93 608.05L556.03 609.36L556.14 610.67L556.24 611.97L556.35 613.25L556.45 614.52L556.55 615.76L556.66 616.99L556.76 618.19L556.86 619.36L556.96 620.51L557.05 621.62L557.15 622.7L557.25 623.74L557.34 624.75L557.43 625.71L557.53 626.63L557.62 627.5L557.71 628.32L557.79 629.1L557.88 629.81L557.96 630.48L558.04 631.08L558.12 631.62L558.2 632.1L558.75 634.21L559.19 633.97L559.58 632.17L559.94 629.65L560.32 627.2L560.76 625.65L561.3 625.8L561.48 626.23L561.68 626.77L561.88 627.41L562.1 628.15L562.32 628.97L562.56 629.87L562.79 630.83L563.04 631.86L563.28 632.94L563.53 634.07L563.79 635.23L564.04 636.43L564.29 637.64L564.54 638.86L564.79 640.09L565.03 641.31L565.27 642.53L565.5 643.72L565.72 644.88L565.94 646.01L566.15 647.1L566.34 648.13L566.53 649.1L566.7 650L566.92 651.2L567.13 652.38L567.31 653.52L567.49 654.64L567.65 655.73L567.8 656.8L567.94 657.84L568.07 658.87L568.19 659.87L568.32 660.85L568.43 661.81L568.55 662.76L568.67 663.69L568.8 664.61L568.92 665.52L569.06 666.41L569.2 667.3L569.4 668.49L569.58 669.58L569.75 670.59L569.91 671.55L570.08 672.47L570.25 673.39L570.43 674.32L570.63 675.29L570.85 676.31L571.1 677.43L571.38 678.65L571.7 680L571.89 680.8L572.09 682.3L572.29 682.93L572.51 683.21L572.73 683.82L572.96 687.68L573.19 685.78L573.43 687.49L573.68 687.28L573.93 690.11L574.19 689.98L574.46 690.93L574.73 692.23L575.01 690.9L575.29 695.22L575.58 696.48L575.87 699.03L576.17 698.08L576.47 698.45L576.78 701.17L577.09 700.64L577.4 700.52L577.91 702.39L578.43 700.9L578.97 703.7L579.52 704.59L580.09 708.21L580.67 708L581.26 705.95L581.86 708.65L582.47 708.7L583.09 710.03L583.71 712.42L584.34 710.44L584.97 714.77L585.6 714.19L586.23 713.89L586.86 715.42L587.5 716.64L588.14 717.48L588.78 717.73L589.43 718.12L590.09 719.99L590.76 721.23L591.45 723.76L592.14 720.26L592.86 723.24L593.58 724L594.33 722.73L595.1 725.57L595.9 723.52L596.75 724.84L597.62 725.79L598.53 728.77L599.45 726.88L600.39 727.28L601.33 731.46L602.27 731.19L603.19 727.83L604.1 730.38L604.98 730.43L605.83 731.03L606.64 733.83L607.4 733.73L608.58 735.26L609.59 733.32L610.5 731.95L611.37 734.92L612.25 736.4L613.21 733.54L614.31 734.81L615.6 735.46L616.31 735.87L616.85 738.3L617.27 735.01L617.64 737.79L618.01 738.79L618.42 736.62L618.94 736.85L619.61 736.45L620.5 737.3L621.65 737.46L623.12 737.62L624.97 737.76L627.24 737.89L630 738L630.62 738.02L631.28 738.04L631.97 738.06L632.7 738.08L633.45 738.1L634.24 738.11L635.06 738.13L635.91 738.15L636.79 738.16L637.69 738.18L638.63 738.19L639.58 738.2L640.56 738.22L641.56 738.23L642.59 738.24L643.63 738.25L644.69 738.26L645.77 738.28L646.87 738.29L647.99 738.3L649.12 738.31L650.26 738.31L651.42 738.32L652.59 738.33L653.77 738.34L654.96 738.35L656.15 738.35L657.36 738.36L658.57 738.37L659.78 738.37L661 738.38L662.23 738.38L663.45 738.39L664.68 738.4L665.9 738.4L667.12 738.4L668.34 738.41L669.56 738.41L670.77 738.42L671.98 738.42L673.18 738.42L674.37 738.43L675.55 738.43L676.73 738.43L677.89 738.44L679.03 738.44L680.17 738.44L681.29 738.44L682.39 738.45L683.48 738.45L684.55 738.45L685.6 738.45L686.63 738.46L687.64 738.46L688.63 738.46L689.59 738.46L690.53 738.46L691.44 738.47L692.33 738.47L693.19 738.47L694.02 738.47L694.82 738.48L695.58 738.48L696.32 738.48L697.02 738.48L697.69 738.49L698.33 738.49L698.92 738.49L699.48 738.5L700 738.5" fill="none" stroke="#000000" stroke-opacity="0.5" stroke-width="3.2" stroke-linejoin="round" stroke-linecap="round"/>
<path d="M233.9 734L236.9 735.26L239.9 735.91L242.9 735.99L245.9 735.53L248.91 734.6L251.91 733.22L254.91 731.44L257.91 729.3L260.91 726.86L263.91 724.15L266.91 721.21L269.91 718.09L272.91 714.83L275.91 711.47L278.92 708.06L281.92 704.64L284.92 701.22L287.92 697.79L290.92 694.38L293.92 690.98L296.92 687.6L299.92 684.25L302.92 680.94L305.92 677.67L308.93 674.44L311.93 671.27L314.93 668.16L317.93 665.11L320.93 662.14L323.93 659.25L326.93 656.44L329.93 653.73L332.93 651.11L335.93 648.57L338.94 646.13L341.94 643.76L344.94 641.48L347.94 639.28L350.94 637.15L353.94 635.09L356.94 633.09L359.94 631.17L362.94 629.3L365.94 627.5L368.95 625.75L371.95 624.06L374.95 622.41L377.95 620.81L380.95 619.26L383.95 617.75L386.95 616.27L389.95 614.83L392.95 613.42L395.95 612.04L398.96 610.69L401.96 609.36L404.96 608.05L407.96 606.75L410.96 605.47L413.96 604.2L416.96 602.94L419.96 601.68L422.96 600.43L425.96 599.17L428.97 597.92L431.97 596.68L434.97 595.43L437.97 594.19L440.97 592.96L443.97 591.73L446.97 590.51L449.97 589.3L452.97 588.09L455.97 586.89L458.98 585.7L461.98 584.52L464.98 583.35L467.98 582.19L470.98 581.04L473.98 579.9L476.98 578.78L479.98 577.66L482.98 576.57L485.98 575.48L488.99 574.41L491.99 573.36L494.99 572.32L497.99 571.3L500.99 570.29L503.99 569.31L506.99 568.34L509.99 567.39L512.99 566.46L515.99 565.55L519 564.66L522 563.79L525 562.95L528 562.13L531 561.33L534 560.55L536.6 560C536.92 563.33 537.63 570.85 538.5 580C539.37 589.15 541.02 605.23 541.8 614.9C542.58 624.57 542.17 632.15 543.2 638C544.23 643.85 546.4 646.17 548 650C549.6 653.83 551.13 657.67 552.8 661C554.47 664.33 555.95 666.9 558 670C560.05 673.1 561.18 674.35 565.1 679.6C569.02 684.85 576.5 695.58 581.5 701.5C586.5 707.42 590.55 710.78 595.1 715.1C599.65 719.42 603.1 723.98 608.8 727.4C614.5 730.82 623.62 733.92 629.3 735.6C634.98 737.28 637.78 737.1 642.9 737.5C648.02 737.9 650.48 737.83 660 738C669.52 738.17 693.33 738.42 700 738.5" fill="none" stroke="#000" stroke-width="3.6" stroke-dasharray="12.3 4.9" stroke-linejoin="round" stroke-linecap="butt"/>
</g>
<g clip-path="url(#clipc)">
<path d="M259 917.55L259.07 921.03L259.15 924.37L259.25 925.62L259.36 925.41L259.48 923.23L259.6 924.78L259.74 924.15L259.88 922.29L260.02 925.41L260.16 930.01L260.31 929.15L260.45 928.62L260.6 927.65L260.74 931.05L260.87 930.66L261 933.09L261.12 935.07L261.25 928.72L261.38 935.19L261.5 932.45L261.62 934.62L261.75 934.63L261.88 941.51L262 941.17L262.12 941.53L262.25 939.14L262.38 938.15L262.5 941.7L262.62 944.03L262.75 944.14L262.88 946.93L263 945.08L263.12 951.44L263.23 949.31L263.34 953.59L263.45 949.9L263.56 949.51L263.67 948.76L263.77 953.88L263.88 955.34L263.99 953.89L264.11 955.38L264.22 954.46L264.34 954.91L264.46 956.07L264.59 952.77L264.72 955.82L264.86 959.32L265 960.32L265.17 963.66L265.35 963.33L265.54 963.63L265.73 963.49L265.93 958.33L266.13 965.11L266.33 963.49L266.54 967.84L266.75 966.63L266.96 967.27L267.17 967.52L267.38 968.93L267.59 965.39L267.8 967.09L268 975.12L268.21 973.96L268.42 972.62L268.62 973.83L268.83 974.77L269.03 985.13L269.23 979.05L269.44 978.67L269.64 977.83L269.85 974.31L270.07 981.49L270.29 985.41L270.52 984.77L270.75 983.43L271 981.41L271.33 979.92L271.64 982.84L271.94 980.97L272.24 977.82L272.56 985.22L272.92 976.47L273.33 976.64L273.8 970.2L274.35 981.64L275 975.48L275.62 975.39L276.32 976.15L277.08 972.5L277.89 972.91L278.74 975.45L279.62 971.94L280.53 975.21L281.44 977.77L282.36 976.34L283.26 978.23L284.15 977.18L285 979.16L285.85 974.85L286.71 975.32L287.59 970.88L288.48 973.73L289.37 972.26L290.25 974.38L291.12 971.68L291.96 975.96L292.78 982.95L293.56 973.15L294.31 977.44L295 977.83L295.83 974.13L296.54 975.82L297.19 975.55L297.78 978.87L298.35 976.11L298.93 986.27L299.54 981.55L300.22 981.76L301 984.28L301.64 983.09L302.31 980.5L303.02 981.82L303.74 981.53L304.49 982.37L305.25 984.17L306.03 978.67L306.81 979.71L307.61 982.84L308.41 984.85L309.21 983.47L310 984.59L310.6 987.6L311.22 987.19L311.86 986.1L312.5 986.14L313.15 984.37L313.81 988.81L314.47 988.57L315.12 986.98L315.78 990.4L316.43 989.22L317.06 989.81L317.69 987.71L318.3 993.29L318.89 990.48L319.46 993.06L320 993.37L320.71 992.41L321.31 994L321.83 994.23L322.3 994.76L322.76 996.19L323.24 995.06L323.77 998.22L324.38 997.59L325.1 995.53L325.96 999.19L327 998.06L327.55 1000.04L328.11 994.67L328.68 1000.26L329.27 995.31L329.87 999.14L330.48 1002.56L331.12 1001.2L331.78 1002.32L332.45 1001.45L333.15 1001.3L333.88 1002.34L334.63 1002.71L335.41 1002.23L336.21 1001.26L337.05 1000.44L337.92 1001.12L338.82 1004.01L339.75 1003.61L340.72 1003.7L341.73 1004.3L342.78 1003.65L343.87 1002.94L345 1003.45L345.63 1004.06L346.27 1003.07L346.93 1001.27L347.61 1004.7L348.31 1004.5L349.02 1006.98L349.75 1005.91L350.49 1005.03L351.24 1005.95L352.01 1005.2L352.79 1004.07L353.59 1003.53L354.39 1003.65L355.2 1003.05L356.02 1004.77L356.85 1004.6L357.69 1004.68L358.54 1005.58L359.39 1007.59L360.25 1007.39L361.12 1006.34L361.98 1006.92L362.86 1007.51L363.73 1004.53L364.61 1003L365.49 1005.89L366.37 1007.45L367.25 1006.77L368.13 1005.58L369.01 1006.93L369.89 1010.06L370.76 1007.91L371.63 1007.2L372.5 1006.19L373.36 1005.03L374.22 1006.41L375.07 1005.9L375.91 1007.1L376.75 1008.74L377.57 1009.03L378.39 1010.59L379.2 1006.36L380 1004.11L380.83 1005.61L381.65 1004.59L382.47 1006.65L383.29 1006.46L384.1 1009.33L384.9 1008.7L385.7 1009.17L386.5 1007.1L387.3 1006.77L388.09 1003.93L388.88 1006.21L389.67 1005.26L390.46 1005.38L391.25 1006.61L392.03 1007.11L392.82 1008.11L393.6 1010.02L394.39 1007.67L395.17 1007.35L395.96 1007.9L396.74 1007.08L397.53 1005.53L398.32 1006.93L399.11 1006.76L399.91 1005.74L400.7 1008.58L401.5 1007.04L402.31 1009.78L403.11 1006.93L403.92 1008.72L404.74 1007.47L405.56 1006.61L406.38 1006.93L407.21 1005.05L408.05 1005.11L408.89 1004.87L409.74 1007.46L410.59 1006.78L411.45 1008.77L412.32 1008.96L413.2 1010.14L413.95 1006.25L414.71 1005.01L415.48 1004.51L416.25 1004.81L417.02 1003.92L417.8 1005.75L418.58 1006.54L419.36 1007.93L420.15 1008.5L420.95 1009.73L421.74 1007.46L422.54 1005.94L423.34 1004.52L424.15 1003.49L424.96 1003.14L425.77 1005.93L426.58 1006.4L427.4 1005.31L428.22 1008.3L429.04 1007.69L429.86 1006.4L430.69 1005.77L431.51 1006.21L432.34 1004.09L433.17 1002.61L434 1006.4L434.83 1006.67L435.66 1010.48L436.49 1008.27L437.32 1008.22L438.15 1007.06L438.99 1003.73L439.82 1003.68L440.65 1004.14L441.48 1007.2L442.31 1006.8L443.15 1008.43L443.98 1008.39L444.8 1008.69L445.63 1007.03L446.46 1006.48L447.29 1000.65L448.11 1002.17L448.93 1002.99L449.75 1006.13L450.57 1007.47L451.39 1009.19L452.2 1009.79L453.02 1006.78L453.84 1006.12L454.67 1003.52L455.5 1003.25L456.34 1003.47L457.18 1005.04L458.03 1005.63L458.88 1005.13L459.74 1008.13L460.59 1007.85L461.45 1007.96L462.32 1005.87L463.18 1005.3L464.05 1001.22L464.91 1002.51L465.78 1000.57L466.64 1002.31L467.51 1006.67L468.38 1006.17L469.24 1007.13L470.1 1006.19L470.96 1005.44L471.82 1002.81L472.67 1000.29L473.53 1001.32L474.37 1002.5L475.22 1004.84L476.06 1005.25L476.89 1006.01L477.72 1006.69L478.54 1005.07L479.36 1003.82L480.16 1002.97L480.97 1001.67L481.76 998.47L482.55 1000.86L483.32 1002.74L484.09 1004.75L484.85 1006.16L485.6 1006.32L486.34 1008.66L487.07 1002.57L487.79 1004.82L488.5 1001.41L489.19 1000.78L489.87 1000.17L490.54 1000.22L491.2 1000.05L492.26 1001.31L493.28 1006.2L494.26 1006.38L495.21 1003.73L496.13 1004.84L497.02 1000.01L497.89 1001.36L498.73 1001.19L499.55 1002.88L500.35 1003.07L501.13 1006.05L501.89 1006.13L502.64 1002.94L503.38 1002.79L504.11 999.81L504.84 1000.55L505.56 1000.56L506.27 1000.48L506.99 1003.15L507.71 1003.41L508.43 1004.72L509.16 1005.7L509.89 1006.16L511 1008L514.1 1023.4L519 982.4L523.9 1019.5L527 1005L527.36 1004.75L528.3 1007.19L529.23 1007.92L530.14 1005.95L531.04 1004.88L531.92 1004.24L532.78 1001.93L533.62 1001.15L534.42 999.38L535.2 999.68L535.94 1002.04L536.65 1002.61L537.32 1005.71L537.95 1009.21L538.54 1008.4L539.07 1007.93L539.56 1007.23L540 1004L541.04 1003.88L542.09 1002.92L543.13 1003.21L544.17 1003.97L545.21 1003.08L546.26 1002.74L547.3 1002L548.75 1014.38L550.2 1028.3L551.38 1022.75L552.56 1018.3L553.74 1013.19L554.92 1006.09L556.1 1002L557.33 1005.65L558.55 1010.78L559.77 1013.22L561 1016.6L562.11 1014.65L563.23 1012.54L564.34 1002.73L565.46 1002.5L566.57 999.82L567.69 997.13L568.8 992.2L569.91 988.18L571.03 980.46L572.14 970.95L573.26 965.2L574.37 959.04L575.49 952.78L576.6 945.4L577.9 950.01L579.2 955.39L580.5 957.1L581.8 946.04L583.1 941.24L584.4 931.7L585.56 937.49L586.72 938.77L587.88 942.85L589.04 942.33L590.2 945.4L591.5 934.82L592.8 921.03L594.1 914.1L595.4 912.86L596.7 909.42L598 905.4L599.5 912L601 976.6L602.45 993.12L603.9 1007.8L604.9 984.9L605.9 961L607.8 1013.7" fill="none" stroke="#000000" stroke-opacity="0.5" stroke-width="3.2" stroke-linejoin="round" stroke-linecap="round"/>
<path d="M233 1114C233.43 1113.33 234.53 1113.18 235.6 1110C236.67 1106.82 238.42 1108.38 239.4 1094.9C240.38 1081.42 240.85 1055.02 241.5 1029.1C242.15 1003.18 242.65 971.78 243.3 939.4C243.95 907.02 244.9 859.22 245.4 834.8C245.9 810.38 245.95 802.13 246.3 792.9C246.65 783.67 246.9 780.4 247.5 779.4C248.1 778.4 248.5 780.17 249.9 786.9C251.3 793.63 253.4 807.83 255.9 819.8C258.4 831.77 260.92 845.73 264.9 858.7C268.88 871.67 273.83 886.13 279.8 897.6C285.77 909.07 293.22 919.53 300.7 927.5C308.18 935.47 315.72 940.42 324.7 945.4C333.68 950.38 345.38 954.17 354.6 957.4C363.82 960.63 363.73 961.93 380 964.8C396.27 967.67 435.7 972.47 452.2 974.6C468.7 976.73 468.03 976.62 479 977.6C489.97 978.58 508.57 980.02 518 980.5C527.43 980.98 532.33 981.8 535.6 980.5C538.87 979.2 536.95 978.23 537.6 972.7C538.25 967.17 538.53 959.67 539.5 947.3C540.47 934.93 542.1 911.5 543.4 898.5C544.7 885.5 545.67 875.97 547.3 869.3C548.93 862.63 550.92 859.65 553.2 858.5C555.48 857.35 557.1 859.8 561 862.4C564.9 865 572.05 870.52 576.6 874.1C581.15 877.68 584.4 879.83 588.3 883.9C592.2 887.97 596.1 892.48 600 898.5C603.9 904.52 608.37 914.4 611.7 920C615.03 925.6 617.45 929.7 620 932.1C622.55 934.5 624.97 934.47 627 934.4C629.03 934.33 630.63 933.45 632.2 931.7C633.77 929.95 634.13 928.32 636.4 923.9C638.67 919.48 643.07 910.08 645.8 905.2C648.53 900.32 650.47 896.95 652.8 894.6C655.13 892.25 657.47 893.43 659.8 891.1C662.13 888.77 664.07 881.97 666.8 880.6C669.53 879.23 672.3 882.9 676.2 882.9C680.1 882.9 686.3 884.88 690.2 880.6C694.1 876.32 696.47 860.52 699.6 857.2C702.73 853.88 705.48 855.63 709 860.7C712.52 865.77 717.58 885.65 720.7 887.6C723.82 889.55 725.37 875.52 727.7 872.4C730.03 869.28 732.65 869.35 734.7 868.9C736.75 868.45 738.15 865.68 740 869.7C741.85 873.72 744 892.45 745.8 893C747.6 893.55 749.13 875.5 750.8 873C752.47 870.5 754.42 874.12 755.8 878C757.18 881.88 757.72 898.8 759.1 896.3C760.48 893.8 762.3 871.87 764.1 863C765.9 854.13 768.1 845.87 769.9 843.1C771.7 840.33 773.23 841.7 774.9 846.4C776.57 851.1 778.23 866.32 779.9 871.3C781.57 876.28 783.52 874.35 784.9 876.3C786.28 878.25 787.1 883.27 788.2 883C789.3 882.73 790.53 874.98 791.5 874.7C792.47 874.42 793.03 881.58 794 881.3C794.97 881.02 796.47 872.17 797.3 873C798.13 873.83 797.88 874.12 799 886.3C800.12 898.48 802.2 947.77 804 946.1C805.8 944.43 808.42 897.07 809.8 876.3C811.18 855.53 811.47 824.27 812.3 821.5C813.13 818.73 813.97 846.97 814.8 859.7C815.63 872.43 816.2 899 817.3 897.9C818.4 896.8 820.3 861.13 821.4 853.1C822.5 845.07 822.78 848.88 823.9 849.7C825.02 850.52 826.85 851.9 828.1 858C829.35 864.1 830.17 891.55 831.4 886.3C832.63 881.05 834.12 846.03 835.5 826.5C836.88 806.97 839 778.67 839.7 769.1" fill="none" stroke="#000" stroke-width="3.6" stroke-dasharray="12.3 4.9" stroke-linejoin="round" stroke-linecap="butt"/>
</g>
<path d="M180.85 362.3V341.9M358.75 362.3V341.9M536.65 362.3V341.9M714.55 362.3V341.9M892.45 362.3V341.9" stroke="#000" stroke-width="3.5"/>
<path d="M216.43 362.3V353.8M252.01 362.3V353.8M287.59 362.3V353.8M323.17 362.3V353.8M394.33 362.3V353.8M429.91 362.3V353.8M465.49 362.3V353.8M501.07 362.3V353.8M572.23 362.3V353.8M607.81 362.3V353.8M643.39 362.3V353.8M678.97 362.3V353.8M750.13 362.3V353.8M785.71 362.3V353.8M821.29 362.3V353.8M856.87 362.3V353.8" stroke="#000" stroke-width="2.9"/>
<path d="M145.15 362.3H165.55M145.15 284.26H165.55M145.15 206.21H165.55M145.15 128.17H165.55M145.15 50.12H165.55" stroke="#000" stroke-width="3.5"/>
<path d="M145.15 346.69H153.65M145.15 331.08H153.65M145.15 315.47H153.65M145.15 299.86H153.65M145.15 268.65H153.65M145.15 253.04H153.65M145.15 237.43H153.65M145.15 221.82H153.65M145.15 190.6H153.65M145.15 174.99H153.65M145.15 159.38H153.65M145.15 143.78H153.65M145.15 112.56H153.65M145.15 96.95H153.65M145.15 81.34H153.65M145.15 65.73H153.65M145.15 34.51H153.65M145.15 18.9H153.65" stroke="#000" stroke-width="2.9"/>
<g clip-path="url(#clipa)">
<path d="M140 19L181.6 19" fill="none" stroke="#ff0000" stroke-width="3.2" stroke-linejoin="round" stroke-linecap="round"/>
<path d="M180.5 17.4L183.6 17.4L184 186L186 186.5L188 244L190 244.4L190 261.7L193.3 262L194.5 266L197 269.5L194.5 273.7L192.6 274L192.6 287L189.3 287.5L188 318.8L185.5 319L185.5 366L180.5 366Z" fill="#ff0000"/>
<path d="M194.9 270.5L210 271.5L225 272.5L236.5 273.2L236.5 273.2L239.5 269L241.5 255L243.8 232L246 218L250 206.1L254 199.5L257.8 195.4L257.8 194.63L259 190.45L260.2 194.47L261.41 191.04L262.61 190.73L263.81 187.5L265.01 193.32L266.21 188.33L267.41 191.97L268.62 190.87L269.82 190.33L271.02 188.07L272.22 189.69L273.42 191.36L274.62 187.99L275.83 189.38L277.03 193.8L278.23 191.95L279.43 189.92L280.63 195.93L281.83 195.65L283.04 194.81L284.24 198.21L285.44 193.63L286.64 196.45L287.84 200L289.05 199.8L290.25 201.26L291.45 204.14L292.65 201.67L293.85 207.4L295.05 205.84L296.26 202.97L297.46 210.64L298.66 203.67L299.86 208.91L301.06 209.96L302.26 211.04L303.47 208.85L304.67 208.16L305.87 210.63L307.07 209.99L308.27 213.86L309.48 213.95L310.68 212.62L311.88 215.29L313.08 214.48L314.28 217.3L315.48 218.57L316.69 215.08L317.89 214.91L319.09 219.83L320.29 218.43L321.49 215.66L322.69 219.09L323.9 217.94L325.1 217.12L326.3 219.29L327.5 221.65L328.7 218.67L329.9 220.83L331.11 219.23L332.31 222.7L333.51 220.81L334.71 221.38L335.91 222.01L337.12 220.93L338.32 224.62L339.52 222.4L340.72 227.09L341.92 222.47L343.12 226.71L344.33 225.26L345.53 220.99L346.73 225.14L347.93 226.91L349.13 223.19L350.33 226.58L351.54 227.44L352.74 225.43L353.94 226.11L355.14 224.56L356.34 230.18L357.54 225.82L358.75 226.02L359.95 228.43L361.15 227.19L362.35 225.24L363.55 223.49L364.76 230.55L365.96 228.66L367.16 226.43L368.36 226.49L369.56 230.69L370.76 230.22L371.97 226.91L373.17 226.62L374.37 226.34L375.57 230.23L376.77 228.51L377.97 233.08L379.18 230.93L380.38 230.15L381.58 231.82L382.78 226.55L383.98 230.16L385.19 230.88L386.39 230.46L387.59 232.12L388.79 233.03L389.99 233.43L391.19 229.68L392.4 233.09L393.6 232.8L394.8 230.71L396 228.66L397.2 230.72L398.4 228.13L399.61 233.68L400.81 234.99L402.01 232.35L403.21 236.23L404.41 231.16L405.61 235.65L406.82 235.24L408.02 232.29L409.22 231.91L410.42 233.56L411.62 228.62L412.83 234.13L414.03 233.41L415.23 232.06L416.43 232.62L417.63 233.13L418.83 228.38L420.04 237.34L421.24 232.94L422.44 232.34L423.64 233.88L424.84 234.2L426.04 234.53L427.25 235.94L428.45 232.76L429.65 228.8L430.85 232.78L432.05 237.81L433.26 232.28L434.46 232.49L435.66 234.94L436.86 231.45L438.06 229.74L439.26 233.84L440.47 234.92L441.67 237.23L442.87 232.12L444.07 232.03L445.27 234.85L446.47 235.98L447.68 231.65L448.88 233.32L450.08 237.16L451.28 232.22L452.48 234.51L453.68 238.3L454.89 229.94L456.09 236.63L457.29 232.72L458.49 229.97L459.69 233.07L460.9 237.54L462.1 231.91L463.3 229.91L464.5 233.42L465.7 238L466.9 233.31L468.11 234.17L469.31 234.82L470.51 235.07L471.71 234.59L472.91 232.2L474.11 237.71L475.32 234.85L476.52 233.38L477.72 234.72L478.92 234.43L480.12 230.77L481.32 234.34L482.53 235.7L483.73 232.42L484.93 232.35L486.13 233.25L487.33 234.81L488.54 231.74L489.74 231.74L490.94 234.15L492.14 231.87L493.34 234.72L494.54 236.38L495.75 231.34L496.95 235.8L498.15 236.92L499.35 235.16L500.55 235.15L501.75 237.26L502.96 231.99L504.16 233.38L505.36 236.06L506.56 234.31L507.76 232.99L508.97 237.18L510.17 232.86L511.37 237.64L512.57 233.84L513.77 235.28L514.97 236.17L516.18 231.97L517.38 235.22L518.58 240.11L519.78 235.59L520.98 235.56L522.18 233.73L523.39 238.54L524.59 235.74L525.79 237.29L526.99 235.05L528.19 234.5L529.39 235.65L530.6 237.68L531.8 233.83L533 237.93L533 236.59L535 236.54L535.81 233.07L536.78 232.28L537.86 233.15L538.95 233.83L540 230.3L540.38 227.31L540.75 226.92L541.11 226.89L541.47 227.17L541.83 224.68L542.19 222.98L542.56 221.92L542.93 221.19L543.31 218.66L543.71 218.4L544.12 217.51L544.55 218.17L545 214.66L545.47 214.89L545.96 210.91L546.46 212.23L546.97 209.98L547.5 207.73L548.04 207.14L548.59 207.16L549.14 204.26L549.71 204.96L550.28 204.56L550.85 203.71L551.42 202.82L552 198.1L553.12 199.28L554.3 197.25L555.52 199.13L556.73 197.75L557.9 197.81L559.01 197.91L560 196.04L561.21 196.14L562.27 194.1L563.22 196.95L564.12 192.38L565 191.87L565.71 188.35L566.38 187.56L567.01 187.2L567.63 188.2L568.26 186.98L568.9 185.24L569.71 183L570.54 185.72L571.37 181.06L572.16 180.28L572.9 180.52L573.18 177.57L573.43 178.25L573.67 178.04L573.9 175.34L574.12 174.66L574.34 172.77L574.56 170.39L574.79 165.56L575.03 166.88L575.3 167.26L575.58 163.79L575.9 164.18L576.36 163.89L576.84 164.18L577.35 159.26L577.88 159.28L578.44 159.23L579.02 158.6L579.62 154.97L580.25 158.47L580.9 153.82L581.7 155.43L582.58 152.71L583.52 152.67L584.47 153.56L585.41 151.42L586.3 149.81L587.11 147.42L587.8 147.05L588.5 144.86L589.01 148.55L589.41 142.55L589.79 140.01L590.22 144.61L590.8 142.72L591.22 139.54L591.67 140.24L592.15 136.94L592.66 136.25L593.17 136.67L593.71 135.41L594.25 133.08L594.8 134.78L595.35 132.33L595.9 130.24L596.32 127.43L596.75 128.26L597.19 126.62L597.63 125.94L598.08 126.11L598.52 123.13L598.98 123.2L599.43 122.81L599.89 121.03L600.34 119.29L600.8 118.04L601.25 116.75L601.7 115.4L602.03 114.39L602.35 113.33L602.68 112.23L603.01 111.1L603.33 109.94L603.66 108.76L603.99 107.56L604.32 106.34L604.65 105.11L604.98 103.87L605.31 102.63L605.64 101.4L605.97 100.17L606.29 98.95L606.62 97.75L606.95 96.57L607.27 95.42L607.6 94.3L607.97 93.06L608.33 91.82L608.69 90.6L609.05 89.37L609.42 88.16L609.78 86.96L610.14 85.76L610.5 84.58L610.86 83.41L611.22 82.25L611.58 81.1L611.95 79.97L612.31 78.86L612.67 77.75L613.03 76.67L613.4 75.6L613.85 74.31L614.3 73.03L614.76 71.78L615.21 70.55L615.67 69.34L616.12 68.16L616.58 66.99L617.03 65.84L617.49 64.71L617.94 63.6L618.4 62.52L618.85 61.45L619.3 60.4L619.87 59.08L620.43 57.8L620.97 56.57L621.51 55.37L622.06 54.21L622.61 53.06L623.19 51.94L623.79 50.82L624.42 49.71L625.1 48.6L625.75 47.58L626.43 46.56L627.13 45.55L627.85 44.54L628.6 43.54L629.36 42.56L630.13 41.61L630.91 40.68L631.7 39.78L632.5 38.92L633.3 38.1L634.28 37.16L635.26 36.29L636.26 35.47L637.27 34.69L638.3 33.94L639.35 33.22L640.43 32.51L641.55 31.81L642.7 31.1L643.75 30.46L644.8 29.83L645.86 29.21L646.93 28.6L648.04 28.01L649.18 27.42L650.38 26.85L651.65 26.29L652.98 25.74L654.4 25.2L655.4 24.85L656.45 24.49L657.54 24.14L658.67 23.8L659.83 23.46L661.02 23.12L662.23 22.79L663.45 22.46L664.68 22.15L665.92 21.84L667.16 21.55L668.39 21.27L669.61 21L670.82 20.74L672 20.5L673.25 20.26L674.48 20.04L675.7 19.84L676.92 19.65L678.13 19.48L679.35 19.32L680.57 19.17L681.8 19.02L683.03 18.89L684.28 18.75L685.55 18.62L686.84 18.48L688.16 18.34L689.5 18.2L690.58 18.08L691.6 17.96L692.58 17.84L693.52 17.72L694.45 17.61L695.39 17.49L696.33 17.38L697.31 17.27L698.33 17.16L699.41 17.05L700.58 16.95L701.83 16.85L703.19 16.75L704.67 16.66L706.29 16.57L708.06 16.48L710 16.4L710.87 16.37L711.75 16.33L712.65 16.3L713.57 16.27L714.5 16.24L715.45 16.21L716.41 16.18L717.39 16.15L718.38 16.12L719.39 16.1L720.42 16.07L721.47 16.04L722.53 16.02L723.61 15.99L724.71 15.97L725.82 15.94L726.96 15.92L728.11 15.89L729.28 15.87L730.47 15.85L731.68 15.83L732.9 15.81L734.15 15.79L735.42 15.77L736.7 15.75L738.01 15.73L739.33 15.71L740.68 15.69L742.05 15.67L743.43 15.65L744.84 15.64L746.27 15.62L747.72 15.6L749.2 15.59L750.69 15.57L752.21 15.56L753.75 15.54L755.31 15.53L756.89 15.51L758.5 15.5L759.48 15.49L760.5 15.48L761.54 15.48L762.61 15.47L763.72 15.46L764.84 15.46L766 15.45L767.18 15.44L768.38 15.44L769.6 15.43L770.85 15.42L772.11 15.42L773.4 15.41L774.7 15.41L776.02 15.4L777.35 15.4L778.7 15.39L780.06 15.39L781.44 15.39L782.82 15.38L784.22 15.38L785.62 15.38L787.03 15.37L788.45 15.37L789.88 15.37L791.3 15.36L792.73 15.36L794.17 15.36L795.6 15.35L797.03 15.35L798.47 15.35L799.89 15.35L801.32 15.34L802.74 15.34L804.16 15.34L805.56 15.34L806.96 15.34L808.35 15.34L809.73 15.33L811.1 15.33L812.46 15.33L813.8 15.33L815.12 15.33L816.43 15.33L817.73 15.33L819 15.32L820.25 15.32L821.49 15.32L822.7 15.32L823.89 15.32L825.06 15.32L826.2 15.32L827.31 15.32L828.4 15.32L829.45 15.31L830.48 15.31L831.48 15.31L832.44 15.31L833.37 15.31L834.27 15.31L835.13 15.31L835.96 15.31L836.75 15.31L837.5 15.3L838.21 15.3L838.87 15.3L839.5 15.3" fill="none" stroke="#ff0000" stroke-width="3.2" stroke-linejoin="round" stroke-linecap="round"/>
</g>
<path d="M892.5 323.28H872.1M892.5 245.23H872.1M892.5 167.19H872.1M892.5 89.14H872.1M892.5 11.1H872.1" stroke="#000" stroke-width="3.5"/>
<path d="M892.5 342.79H884M892.5 303.77H884M892.5 284.26H884M892.5 264.74H884M892.5 225.72H884M892.5 206.21H884M892.5 186.7H884M892.5 147.68H884M892.5 128.17H884M892.5 108.66H884M892.5 69.63H884M892.5 50.12H884M892.5 30.61H884" stroke="#000" stroke-width="2.9"/>
<path d="M180.85 738.2V717.8M358.75 738.2V717.8M536.65 738.2V717.8M714.55 738.2V717.8M892.45 738.2V717.8" stroke="#000" stroke-width="3.5"/>
<path d="M216.43 738.2V729.7M252.01 738.2V729.7M287.59 738.2V729.7M323.17 738.2V729.7M394.33 738.2V729.7M429.91 738.2V729.7M465.49 738.2V729.7M501.07 738.2V729.7M572.23 738.2V729.7M607.81 738.2V729.7M643.39 738.2V729.7M678.97 738.2V729.7M750.13 738.2V729.7M785.71 738.2V729.7M821.29 738.2V729.7M856.87 738.2V729.7" stroke="#000" stroke-width="2.9"/>
<path d="M145.15 738.2H165.55M145.15 666.83H165.55M145.15 595.45H165.55M145.15 524.08H165.55M145.15 452.7H165.55" stroke="#000" stroke-width="3.5"/>
<path d="M145.15 723.93H153.65M145.15 709.65H153.65M145.15 695.38H153.65M145.15 681.1H153.65M145.15 652.55H153.65M145.15 638.28H153.65M145.15 624H153.65M145.15 609.73H153.65M145.15 581.18H153.65M145.15 566.9H153.65M145.15 552.62H153.65M145.15 538.35H153.65M145.15 509.8H153.65M145.15 495.53H153.65M145.15 481.25H153.65M145.15 466.98H153.65M145.15 438.43H153.65M145.15 424.15H153.65M145.15 409.88H153.65M145.15 395.6H153.65" stroke="#000" stroke-width="2.9"/>
<path d="M892.5 738.2H872.1M892.5 666.83H872.1M892.5 595.45H872.1M892.5 524.08H872.1M892.5 452.7H872.1" stroke="#000" stroke-width="3.5"/>
<path d="M892.5 723.93H884M892.5 709.65H884M892.5 695.38H884M892.5 681.1H884M892.5 652.55H884M892.5 638.28H884M892.5 624H884M892.5 609.73H884M892.5 581.18H884M892.5 566.9H884M892.5 552.62H884M892.5 538.35H884M892.5 509.8H884M892.5 495.53H884M892.5 481.25H884M892.5 466.98H884M892.5 438.43H884M892.5 424.15H884M892.5 409.88H884M892.5 395.6H884" stroke="#000" stroke-width="2.9"/>
<path d="M180.85 1114.35V1093.95M358.75 1114.35V1093.95M536.65 1114.35V1093.95M714.55 1114.35V1093.95M892.45 1114.35V1093.95" stroke="#000" stroke-width="3.5"/>
<path d="M216.43 1114.35V1105.85M252.01 1114.35V1105.85M287.59 1114.35V1105.85M323.17 1114.35V1105.85M394.33 1114.35V1105.85M429.91 1114.35V1105.85M465.49 1114.35V1105.85M501.07 1114.35V1105.85M572.23 1114.35V1105.85M607.81 1114.35V1105.85M643.39 1114.35V1105.85M678.97 1114.35V1105.85M750.13 1114.35V1105.85M785.71 1114.35V1105.85M821.29 1114.35V1105.85M856.87 1114.35V1105.85" stroke="#000" stroke-width="2.9"/>
<path d="M145.15 1114.35H165.55M145.15 1031.59H165.55M145.15 948.83H165.55M145.15 866.07H165.55M145.15 783.31H165.55" stroke="#000" stroke-width="3.5"/>
<path d="M145.15 1093.66H153.65M145.15 1072.97H153.65M145.15 1052.28H153.65M145.15 1010.9H153.65M145.15 990.21H153.65M145.15 969.52H153.65M145.15 928.14H153.65M145.15 907.45H153.65M145.15 886.76H153.65M145.15 845.38H153.65M145.15 824.69H153.65M145.15 804H153.65" stroke="#000" stroke-width="2.9"/>
<path d="M892.5 1114.35H872.1M892.5 1031.59H872.1M892.5 948.83H872.1M892.5 866.07H872.1M892.5 783.31H872.1" stroke="#000" stroke-width="3.5"/>
<path d="M892.5 1093.66H884M892.5 1072.97H884M892.5 1052.28H884M892.5 1010.9H884M892.5 990.21H884M892.5 969.52H884M892.5 928.14H884M892.5 907.45H884M892.5 886.76H884M892.5 845.38H884M892.5 824.69H884M892.5 804H884" stroke="#000" stroke-width="2.9"/>
<rect x="145.15" y="11.1" width="747.35" height="351.2" fill="none" stroke="#000" stroke-width="3.6" stroke-linejoin="miter"/>
<rect x="145.15" y="387.1" width="747.35" height="351.1" fill="none" stroke="#000" stroke-width="3.6" stroke-linejoin="miter"/>
<rect x="145.15" y="763.15" width="747.35" height="351.2" fill="none" stroke="#000" stroke-width="3.6" stroke-linejoin="miter"/>
<text transform="translate(112.57 374.01) scale(1.004 1.017)" font-size="32.23">0</text>
<text transform="translate(93.29 295.86) scale(0.959 1.009)" font-size="32.23">1</text>
<text transform="translate(112.57 295.97) scale(1.004 1.017)" font-size="32.23">0</text>
<text transform="translate(92.95 217.81) scale(0.968 1.012)" font-size="32.23">2</text>
<text transform="translate(112.57 217.93) scale(1.004 1.017)" font-size="32.23">0</text>
<text transform="translate(93.43 139.88) scale(0.964 1.017)" font-size="32.23">3</text>
<text transform="translate(112.57 139.88) scale(1.004 1.017)" font-size="32.23">0</text>
<text transform="translate(93.03 61.72) scale(1.004 1.009)" font-size="32.23">4</text>
<text transform="translate(112.57 61.84) scale(1.004 1.017)" font-size="32.23">0</text>
<text transform="translate(907.26 22.81) scale(1.004 1.017)" font-size="32.23">0</text>
<text transform="translate(926.28 22.52) scale(1.031 1.000)" font-size="32.23">.</text>
<text transform="translate(936.55 22.81) scale(1.004 1.017)" font-size="32.23">0</text>
<text transform="translate(907.8 101.84) scale(1.227 1.000)" font-size="32.23">−</text>
<text transform="translate(932.98 100.86) scale(1.004 1.017)" font-size="32.23">0</text>
<text transform="translate(952.01 100.56) scale(1.031 1.000)" font-size="32.23">.</text>
<text transform="translate(962.19 100.74) scale(0.968 1.012)" font-size="32.23">2</text>
<text transform="translate(907.8 179.88) scale(1.227 1.000)" font-size="32.23">−</text>
<text transform="translate(932.98 178.9) scale(1.004 1.017)" font-size="32.23">0</text>
<text transform="translate(952.01 178.61) scale(1.031 1.000)" font-size="32.23">.</text>
<text transform="translate(962.27 178.79) scale(1.004 1.009)" font-size="32.23">4</text>
<text transform="translate(907.8 257.93) scale(1.227 1.000)" font-size="32.23">−</text>
<text transform="translate(932.98 256.95) scale(1.004 1.017)" font-size="32.23">0</text>
<text transform="translate(952.01 256.65) scale(1.031 1.000)" font-size="32.23">.</text>
<text transform="translate(961.96 256.95) scale(1.039 1.017)" font-size="32.23">6</text>
<text transform="translate(907.8 335.97) scale(1.227 1.000)" font-size="32.23">−</text>
<text transform="translate(932.98 334.99) scale(1.004 1.017)" font-size="32.23">0</text>
<text transform="translate(952.01 334.7) scale(1.031 1.000)" font-size="32.23">.</text>
<text transform="translate(962.18 334.99) scale(1.015 1.017)" font-size="32.23">8</text>
<text transform="translate(83.38 749.91) scale(1.004 1.017)" font-size="32.23">0</text>
<text transform="translate(102.4 749.62) scale(1.031 1.000)" font-size="32.23">.</text>
<text transform="translate(112.67 749.91) scale(1.004 1.017)" font-size="32.23">0</text>
<text transform="translate(83.94 678.43) scale(0.968 1.012)" font-size="32.23">2</text>
<text transform="translate(103.04 678.24) scale(1.031 1.000)" font-size="32.23">.</text>
<text transform="translate(113.7 678.54) scale(0.947 1.014)" font-size="32.23">5</text>
<text transform="translate(83.76 607.17) scale(0.947 1.014)" font-size="32.23">5</text>
<text transform="translate(102.4 606.87) scale(1.031 1.000)" font-size="32.23">.</text>
<text transform="translate(112.67 607.16) scale(1.004 1.017)" font-size="32.23">0</text>
<text transform="translate(84.16 535.68) scale(0.982 1.009)" font-size="32.23">7</text>
<text transform="translate(103.04 535.49) scale(1.031 1.000)" font-size="32.23">.</text>
<text transform="translate(113.7 535.79) scale(0.947 1.014)" font-size="32.23">5</text>
<text transform="translate(64.1 464.3) scale(0.959 1.009)" font-size="32.23">1</text>
<text transform="translate(83.38 464.41) scale(1.004 1.017)" font-size="32.23">0</text>
<text transform="translate(102.4 464.12) scale(1.031 1.000)" font-size="32.23">.</text>
<text transform="translate(112.67 464.41) scale(1.004 1.017)" font-size="32.23">0</text>
<text transform="translate(112.57 1126.06) scale(1.004 1.017)" font-size="32.23">0</text>
<text transform="translate(113.52 1043.19) scale(0.968 1.012)" font-size="32.23">2</text>
<text transform="translate(112.25 960.43) scale(1.004 1.009)" font-size="32.23">4</text>
<text transform="translate(112.14 877.78) scale(1.039 1.017)" font-size="32.23">6</text>
<text transform="translate(112.53 795.02) scale(1.015 1.017)" font-size="32.23">8</text>
<text transform="translate(171.85 1153.2) scale(1.004 1.017)" font-size="32.23">0</text>
<text transform="translate(340.2 1153.2) scale(0.947 1.014)" font-size="32.23">5</text>
<text transform="translate(359.34 1153.2) scale(1.004 1.017)" font-size="32.23">0</text>
<text transform="translate(507.7 1153.09) scale(0.959 1.009)" font-size="32.23">1</text>
<text transform="translate(526.98 1153.2) scale(1.004 1.017)" font-size="32.23">0</text>
<text transform="translate(546.51 1153.2) scale(1.004 1.017)" font-size="32.23">0</text>
<text transform="translate(685.6 1153.09) scale(0.959 1.009)" font-size="32.23">1</text>
<text transform="translate(705.26 1153.2) scale(0.947 1.014)" font-size="32.23">5</text>
<text transform="translate(724.41 1153.2) scale(1.004 1.017)" font-size="32.23">0</text>
<text transform="translate(863.73 1153.09) scale(0.968 1.012)" font-size="32.23">2</text>
<text transform="translate(883.34 1153.2) scale(1.004 1.017)" font-size="32.23">0</text>
<text transform="translate(902.87 1153.2) scale(1.004 1.017)" font-size="32.23">0</text>
<text transform="translate(21.2 28.64) scale(0.856 0.998)" font-size="38.64">a</text>
<text transform="translate(45.72 26.07) scale(0.805 0.910)" font-size="38.64">)</text>
<text transform="translate(21.16 404.74) scale(1.036 1.004)" font-size="38.64">b</text>
<text transform="translate(46.52 402.17) scale(0.805 0.910)" font-size="38.64">)</text>
<text transform="translate(20.86 780.64) scale(0.956 0.998)" font-size="38.64">c</text>
<text transform="translate(43.4 778.07) scale(0.805 0.910)" font-size="38.64">)</text>
<text transform="translate(450.51 1197.44) scale(1.273 1.022)" font-size="32.23">t</text>
<text transform="translate(463.14 1197.7) scale(0.974 0.999)" font-size="32.23">i</text>
<text transform="translate(471.34 1197.7) scale(1.085 0.991)" font-size="32.23">m</text>
<text transform="translate(501.06 1197.82) scale(1.029 0.998)" font-size="32.23">e</text>
<text transform="translate(529.78 1195.65) scale(0.992 0.911)" font-size="32.23">[</text>
<text transform="translate(541.51 1197.91) scale(1.152 0.998)" font-size="32.23">μ</text>
<text transform="translate(561.78 1197.82) scale(0.913 1.001)" font-size="32.23">s</text>
<text transform="translate(579.66 1195.65) scale(0.992 0.911)" font-size="32.23">]</text>
<text transform="translate(66.6 296.1) rotate(-90) translate(0.02 0) scale(1.007 1.009)" font-size="32.23">I</text>
<text transform="translate(71.7 287.05) rotate(-90) translate(0.29 -0) scale(0.985 1.009)" font-size="22.56">D</text>
<text transform="translate(66.6 270.5) rotate(-90) translate(10.12 -2.05) scale(0.992 0.911)" font-size="32.23">[</text>
<text transform="translate(66.6 270.5) rotate(-90) translate(21.92 0) scale(0.959 1.009)" font-size="32.23">A</text>
<text transform="translate(66.6 270.5) rotate(-90) translate(45.47 -2.05) scale(0.992 0.911)" font-size="32.23">]</text>
<text transform="translate(66.6 270.5) rotate(-90) translate(53.06 -0.45) scale(1.388 0.974)" font-size="32.23">,</text>
<text transform="translate(66.6 196.27) rotate(-90) translate(0.79 0) scale(0.842 1.009)" font-size="32.23">P</text>
<text transform="translate(71.7 177.75) rotate(-90) translate(0.29 -0) scale(0.985 1.009)" font-size="22.56">D</text>
<text transform="translate(66.6 161.21) rotate(-90) translate(10.12 -2.05) scale(0.992 0.911)" font-size="32.23">[</text>
<text transform="translate(66.6 161.21) rotate(-90) translate(22.21 0) scale(1.065 0.999)" font-size="32.23">k</text>
<text transform="translate(66.6 161.21) rotate(-90) translate(40.4 0) scale(0.939 1.009)" font-size="32.23">W</text>
<text transform="translate(66.6 161.21) rotate(-90) translate(72.6 -2.05) scale(0.992 0.911)" font-size="32.23">]</text>
<text transform="translate(38.5 704.99) rotate(-90) translate(0.29 0.12) scale(1.035 1.004)" font-size="32.23">d</text>
<text transform="translate(38.5 704.99) rotate(-90) translate(19.77 0.12) scale(1.029 0.998)" font-size="32.23">e</text>
<text transform="translate(38.5 704.99) rotate(-90) translate(38.97 0) scale(1.027 0.991)" font-size="32.23">n</text>
<text transform="translate(38.5 704.99) rotate(-90) translate(58.68 0.12) scale(0.913 1.001)" font-size="32.23">s</text>
<text transform="translate(38.5 704.99) rotate(-90) translate(74.62 0) scale(0.974 0.999)" font-size="32.23">i</text>
<text transform="translate(38.5 704.99) rotate(-90) translate(82.56 -0.26) scale(1.273 1.022)" font-size="32.23">t</text>
<text transform="translate(38.5 704.99) rotate(-90) translate(95.23 -0.15) scale(1.023 0.977)" font-size="32.23">y</text>
<text transform="translate(38.5 704.99) rotate(-90) translate(122.68 -2.05) scale(0.992 0.911)" font-size="32.23">[</text>
<text transform="translate(38.5 704.99) rotate(-90) translate(135.32 0) scale(0.959 1.009)" font-size="32.23">1</text>
<text transform="translate(38.5 704.99) rotate(-90) translate(154.59 0.11) scale(1.004 1.017)" font-size="32.23">0</text>
<text transform="translate(26.9 531.63) rotate(-90) translate(0.71 -0) scale(0.959 1.009)" font-size="22.56">1</text>
<text transform="translate(26.9 531.63) rotate(-90) translate(13.93 0.08) scale(1.037 1.017)" font-size="22.56">9</text>
<text transform="translate(38.5 504.29) rotate(-90) translate(10.22 0) scale(1.085 0.991)" font-size="32.23">m</text>
<text transform="translate(26.9 464.62) rotate(-90) translate(0.91 0.77) scale(1.227 1.000)" font-size="22.56">−</text>
<text transform="translate(26.9 464.62) rotate(-90) translate(18.81 0.08) scale(0.964 1.017)" font-size="22.56">3</text>
<text transform="translate(38.5 432.94) rotate(-90) translate(2.73 -2.05) scale(0.992 0.911)" font-size="32.23">]</text>
<text transform="translate(85.7 993.71) rotate(-90) translate(-0.84 0) scale(1.039 1.009)" font-size="32.23">T</text>
<text transform="translate(90.8 974.96) rotate(-90) translate(0.2 0.08) scale(1.029 0.998)" font-size="22.56">e</text>
<text transform="translate(85.7 961.74) rotate(-90) translate(10.12 -2.05) scale(0.992 0.911)" font-size="32.23">[</text>
<text transform="translate(85.7 961.74) rotate(-90) translate(22.02 0.12) scale(1.029 0.998)" font-size="32.23">e</text>
<text transform="translate(85.7 961.74) rotate(-90) translate(40.73 0) scale(0.967 1.009)" font-size="32.23">V</text>
<text transform="translate(85.7 961.74) rotate(-90) translate(64.36 -2.05) scale(0.992 0.911)" font-size="32.23">]</text>
<text transform="translate(1019.9 243.24) rotate(-90) translate(0.1 0) scale(0.967 1.009)" font-size="32.23">V</text>
<text transform="translate(1025 222.24) rotate(-90) translate(0.29 -0) scale(0.985 1.009)" font-size="22.56">D</text>
<text transform="translate(1019.9 205.69) rotate(-90) translate(10.12 -2.05) scale(0.992 0.911)" font-size="32.23">[</text>
<text transform="translate(1019.9 205.69) rotate(-90) translate(22.21 0) scale(1.065 0.999)" font-size="32.23">k</text>
<text transform="translate(1019.9 205.69) rotate(-90) translate(39.62 0) scale(0.967 1.009)" font-size="32.23">V</text>
<text transform="translate(1019.9 205.69) rotate(-90) translate(63.25 -2.05) scale(0.992 0.911)" font-size="32.23">]</text>
<path d="M674.3 100.4H735.4" fill="none" stroke="#ff0000" stroke-width="3.2" stroke-linejoin="round" stroke-linecap="round"/>
<text transform="translate(759.8 109.3) scale(0.967 1.009)" font-size="32.23">V</text>
<text transform="translate(780.99 114.4) scale(0.985 1.009)" font-size="22.56">D</text>
<text transform="translate(807.29 109.42) scale(1.029 0.998)" font-size="32.23">e</text>
<text transform="translate(826.4 109.3) scale(1.056 0.986)" font-size="32.23">x</text>
<text transform="translate(844.7 109.12) scale(1.036 0.982)" font-size="32.23">p</text>
<path d="M674.3 142.1H735.4" fill="none" stroke="#000000" stroke-opacity="0.5" stroke-width="3.2" stroke-linejoin="round" stroke-linecap="round"/>
<text transform="translate(759.72 150.8) scale(1.007 1.009)" font-size="32.23">I</text>
<text transform="translate(769.04 155.9) scale(0.985 1.009)" font-size="22.56">D</text>
<text transform="translate(795.35 150.92) scale(1.029 0.998)" font-size="32.23">e</text>
<text transform="translate(814.45 150.8) scale(1.056 0.986)" font-size="32.23">x</text>
<text transform="translate(832.75 150.62) scale(1.036 0.982)" font-size="32.23">p</text>
<path d="M674.3 184H735.4" fill="none" stroke="#000000" stroke-width="3.6" stroke-dasharray="12.3 4.9" stroke-linejoin="round" stroke-linecap="butt"/>
<text transform="translate(759.72 193) scale(1.007 1.009)" font-size="32.23">I</text>
<text transform="translate(769.04 198.1) scale(0.985 1.009)" font-size="22.56">D</text>
<path d="M674.3 225.2H735.4" fill="none" stroke="#008000" stroke-opacity="0.5" stroke-width="3.2" stroke-linejoin="round" stroke-linecap="round"/>
<text transform="translate(760.49 234.6) scale(0.842 1.009)" font-size="32.23">P</text>
<text transform="translate(778.5 239.7) scale(0.985 1.009)" font-size="22.56">D</text>
<text transform="translate(804.8 234.72) scale(1.029 0.998)" font-size="32.23">e</text>
<text transform="translate(823.91 234.6) scale(1.056 0.986)" font-size="32.23">x</text>
<text transform="translate(842.21 234.42) scale(1.036 0.982)" font-size="32.23">p</text>
<path d="M674.3 267.4H735.4" fill="none" stroke="#008000" stroke-width="3.6" stroke-dasharray="12.3 4.9" stroke-linejoin="round" stroke-linecap="butt"/>
<text transform="translate(760.49 276.3) scale(0.842 1.009)" font-size="32.23">P</text>
<text transform="translate(778.5 281.4) scale(0.985 1.009)" font-size="22.56">D</text>
<path d="M679.2 462.2H739.2" fill="none" stroke="#ff7f0e" stroke-width="3.2" stroke-linejoin="round" stroke-linecap="round"/>
<text transform="translate(763.98 472.8) scale(0.959 1.009)" font-size="32.23">A</text>
<text transform="translate(784.98 472.8) scale(1.220 0.991)" font-size="32.23">r</text>
<path d="M679.2 500.9H739.2" fill="none" stroke="#d62728" stroke-width="3.2" stroke-linejoin="round" stroke-linecap="round"/>
<text transform="translate(763.98 507.8) scale(0.959 1.009)" font-size="32.23">A</text>
<text transform="translate(784.98 507.8) scale(1.220 0.991)" font-size="32.23">r</text>
<text transform="translate(802.05 498.62) scale(1.227 1.220)" font-size="22.56">+</text>
<path d="M679.2 539.5H739.2" fill="none" stroke="#1f77b4" stroke-width="3.2" stroke-linejoin="round" stroke-linecap="round"/>
<text transform="translate(763.98 550.3) scale(0.959 1.009)" font-size="32.23">A</text>
<text transform="translate(785.58 550.3) scale(0.974 0.999)" font-size="32.23">l</text>
<path d="M679.2 578.1H739.2" fill="none" stroke="#2ca02c" stroke-width="3.2" stroke-linejoin="round" stroke-linecap="round"/>
<text transform="translate(763.98 585.4) scale(0.959 1.009)" font-size="32.23">A</text>
<text transform="translate(785.58 585.4) scale(0.974 0.999)" font-size="32.23">l</text>
<text transform="translate(797.96 576.22) scale(1.227 1.220)" font-size="22.56">+</text>
<path d="M679.2 616.8H739.2" fill="none" stroke="#000000" stroke-opacity="0.5" stroke-width="3.2" stroke-linejoin="round" stroke-linecap="round"/>
<text transform="translate(764.39 624.3) scale(1.027 0.991)" font-size="32.23">n</text>
<text transform="translate(783.46 629.48) scale(1.029 0.998)" font-size="22.56">e</text>
<text transform="translate(806.52 624.42) scale(1.029 0.998)" font-size="32.23">e</text>
<text transform="translate(825.63 624.3) scale(1.056 0.986)" font-size="32.23">x</text>
<text transform="translate(843.93 624.12) scale(1.036 0.982)" font-size="32.23">p</text>
<path d="M679.2 656.6H739.2" fill="none" stroke="#000000" stroke-width="3.6" stroke-dasharray="12.3 4.9" stroke-linejoin="round" stroke-linecap="butt"/>
<text transform="translate(764.39 664.9) scale(1.027 0.991)" font-size="32.23">n</text>
<text transform="translate(783.46 670.08) scale(1.029 0.998)" font-size="22.56">e</text>
<path d="M679.2 1026.3H739.2" fill="none" stroke="#000000" stroke-opacity="0.5" stroke-width="3.2" stroke-linejoin="round" stroke-linecap="round"/>
<text transform="translate(762.26 1035) scale(1.039 1.009)" font-size="32.23">T</text>
<text transform="translate(782.05 1040.18) scale(1.029 0.998)" font-size="22.56">e</text>
<text transform="translate(805.12 1035.12) scale(1.029 0.998)" font-size="32.23">e</text>
<text transform="translate(824.22 1035) scale(1.056 0.986)" font-size="32.23">x</text>
<text transform="translate(842.52 1034.82) scale(1.036 0.982)" font-size="32.23">p</text>
<path d="M679.2 1068H739.2" fill="none" stroke="#000000" stroke-width="3.6" stroke-dasharray="12.3 4.9" stroke-linejoin="round" stroke-linecap="butt"/>
<text transform="translate(762.26 1077.1) scale(1.039 1.009)" font-size="32.23">T</text>
<text transform="translate(782.05 1082.28) scale(1.029 0.998)" font-size="22.56">e</text>
</svg>
</body></html>
